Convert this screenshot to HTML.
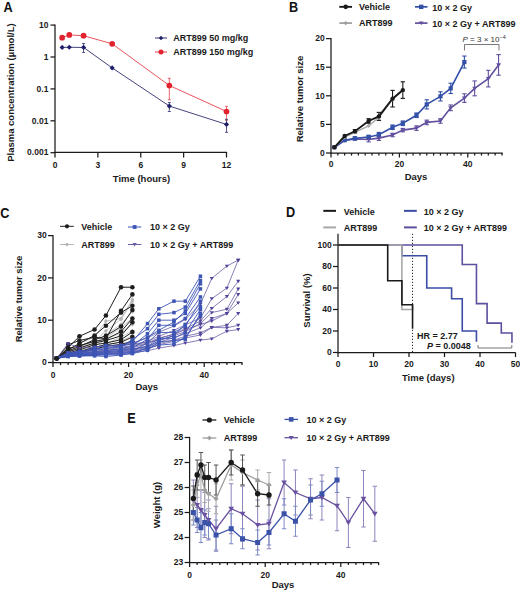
<!DOCTYPE html>
<html><head><meta charset="utf-8"><style>
html,body{margin:0;padding:0;background:#fff;width:520px;height:591px;overflow:hidden}
svg{display:block;font-family:"Liberation Sans", sans-serif}
</style></head><body>
<svg width="520" height="591" viewBox="0 0 520 591">
<rect width="520" height="591" fill="#fff"/>
<text transform="translate(3.60 11.50) scale(0.92 1)" font-size="13.8" font-weight="bold" fill="#111">A</text>
<line x1="55.00" y1="24.40" x2="55.00" y2="152.90" stroke="#1a1a1a" stroke-width="1.25"/>
<line x1="54.40" y1="152.30" x2="227.10" y2="152.30" stroke="#1a1a1a" stroke-width="1.25"/>
<line x1="50.50" y1="25.10" x2="55.00" y2="25.10" stroke="#1a1a1a" stroke-width="1.25"/>
<text x="48.40" y="27.80" font-size="8.5" text-anchor="end" font-weight="bold" fill="#1a1a1a">10</text>
<line x1="50.50" y1="57.00" x2="55.00" y2="57.00" stroke="#1a1a1a" stroke-width="1.25"/>
<text x="48.40" y="59.70" font-size="8.5" text-anchor="end" font-weight="bold" fill="#1a1a1a">1</text>
<line x1="50.50" y1="88.90" x2="55.00" y2="88.90" stroke="#1a1a1a" stroke-width="1.25"/>
<text x="48.40" y="91.60" font-size="8.5" text-anchor="end" font-weight="bold" fill="#1a1a1a">0.1</text>
<line x1="50.50" y1="120.80" x2="55.00" y2="120.80" stroke="#1a1a1a" stroke-width="1.25"/>
<text x="48.40" y="123.50" font-size="8.5" text-anchor="end" font-weight="bold" fill="#1a1a1a">0.01</text>
<line x1="50.50" y1="152.70" x2="55.00" y2="152.70" stroke="#1a1a1a" stroke-width="1.25"/>
<text x="48.40" y="155.40" font-size="8.5" text-anchor="end" font-weight="bold" fill="#1a1a1a">0.001</text>
<line x1="55.00" y1="152.30" x2="55.00" y2="157.50" stroke="#1a1a1a" stroke-width="1.25"/>
<text x="55.00" y="167.50" font-size="8.5" text-anchor="middle" font-weight="bold" fill="#1a1a1a">0</text>
<line x1="97.88" y1="152.30" x2="97.88" y2="157.50" stroke="#1a1a1a" stroke-width="1.25"/>
<text x="97.88" y="167.50" font-size="8.5" text-anchor="middle" font-weight="bold" fill="#1a1a1a">3</text>
<line x1="140.75" y1="152.30" x2="140.75" y2="157.50" stroke="#1a1a1a" stroke-width="1.25"/>
<text x="140.75" y="167.50" font-size="8.5" text-anchor="middle" font-weight="bold" fill="#1a1a1a">6</text>
<line x1="183.62" y1="152.30" x2="183.62" y2="157.50" stroke="#1a1a1a" stroke-width="1.25"/>
<text x="183.62" y="167.50" font-size="8.5" text-anchor="middle" font-weight="bold" fill="#1a1a1a">9</text>
<line x1="226.50" y1="152.30" x2="226.50" y2="157.50" stroke="#1a1a1a" stroke-width="1.25"/>
<text x="226.50" y="167.50" font-size="8.5" text-anchor="middle" font-weight="bold" fill="#1a1a1a">12</text>
<text x="141.50" y="181.50" font-size="9.5" text-anchor="middle" font-weight="bold" fill="#1a1a1a">Time (hours)</text>
<text x="13.80" y="92.60" font-size="9.5" text-anchor="middle" font-weight="bold" fill="#1a1a1a" transform="rotate(-90 13.8 92.6)">Plasma concentration (µmol/L)</text>
<line x1="169.33" y1="78.30" x2="169.33" y2="99.80" stroke="#e8565c" stroke-width="0.9"/>
<line x1="167.83" y1="78.30" x2="170.83" y2="78.30" stroke="#e8565c" stroke-width="0.9"/>
<line x1="167.83" y1="99.80" x2="170.83" y2="99.80" stroke="#e8565c" stroke-width="0.9"/>
<line x1="226.50" y1="106.30" x2="226.50" y2="120.20" stroke="#e8565c" stroke-width="0.9"/>
<line x1="225.00" y1="106.30" x2="228.00" y2="106.30" stroke="#e8565c" stroke-width="0.9"/>
<line x1="225.00" y1="120.20" x2="228.00" y2="120.20" stroke="#e8565c" stroke-width="0.9"/>
<line x1="169.33" y1="102.50" x2="169.33" y2="111.50" stroke="#44447f" stroke-width="0.9"/>
<line x1="167.83" y1="102.50" x2="170.83" y2="102.50" stroke="#44447f" stroke-width="0.9"/>
<line x1="167.83" y1="111.50" x2="170.83" y2="111.50" stroke="#44447f" stroke-width="0.9"/>
<line x1="226.50" y1="119.30" x2="226.50" y2="132.30" stroke="#44447f" stroke-width="0.9"/>
<line x1="225.00" y1="119.30" x2="228.00" y2="119.30" stroke="#44447f" stroke-width="0.9"/>
<line x1="225.00" y1="132.30" x2="228.00" y2="132.30" stroke="#44447f" stroke-width="0.9"/>
<line x1="83.58" y1="43.50" x2="83.58" y2="52.50" stroke="#44447f" stroke-width="0.9"/>
<line x1="82.08" y1="43.50" x2="85.08" y2="43.50" stroke="#44447f" stroke-width="0.9"/>
<line x1="82.08" y1="52.50" x2="85.08" y2="52.50" stroke="#44447f" stroke-width="0.9"/>
<polyline points="62.15,37.69 69.29,34.90 83.58,35.71 112.17,43.82 169.33,85.48 226.50,111.48" fill="none" stroke="#e8565c" stroke-width="1.0" stroke-linejoin="miter"/>
<polyline points="62.15,47.47 69.29,47.26 83.58,47.47 112.17,67.91 169.33,106.05 226.50,124.42" fill="none" stroke="#44447f" stroke-width="1.0" stroke-linejoin="miter"/>
<circle cx="62.15" cy="37.69" r="2.85" fill="#e2222e"/>
<circle cx="69.29" cy="34.90" r="2.85" fill="#e2222e"/>
<circle cx="83.58" cy="35.71" r="2.85" fill="#e2222e"/>
<circle cx="112.17" cy="43.82" r="2.85" fill="#e2222e"/>
<circle cx="169.33" cy="85.48" r="2.85" fill="#e2222e"/>
<circle cx="226.50" cy="111.48" r="2.85" fill="#e2222e"/>
<path d="M62.15 44.87L64.75 47.47L62.15 50.07L59.55 47.47Z" fill="#20206a"/>
<path d="M69.29 44.66L71.89 47.26L69.29 49.86L66.69 47.26Z" fill="#20206a"/>
<path d="M83.58 44.87L86.18 47.47L83.58 50.07L80.98 47.47Z" fill="#20206a"/>
<path d="M112.17 65.31L114.77 67.91L112.17 70.51L109.57 67.91Z" fill="#20206a"/>
<path d="M169.33 103.45L171.93 106.05L169.33 108.65L166.73 106.05Z" fill="#20206a"/>
<path d="M226.50 121.82L229.10 124.42L226.50 127.02L223.90 124.42Z" fill="#20206a"/>
<line x1="155.00" y1="38.00" x2="167.00" y2="38.00" stroke="#44447f" stroke-width="1.1"/>
<path d="M161.00 35.80L163.20 38.00L161.00 40.20L158.80 38.00Z" fill="#20206a"/>
<text x="173.30" y="40.60" font-size="9" text-anchor="start" font-weight="bold" fill="#1a1a1a">ART899 50 mg/kg</text>
<line x1="155.00" y1="52.00" x2="167.00" y2="52.00" stroke="#e8565c" stroke-width="1.1"/>
<circle cx="161.00" cy="52.00" r="2.5" fill="#e2222e"/>
<text x="173.30" y="55.20" font-size="9" text-anchor="start" font-weight="bold" fill="#1a1a1a">ART899 150 mg/kg</text>
<text transform="translate(289.00 11.70) scale(0.92 1)" font-size="13.8" font-weight="bold" fill="#111">B</text>
<line x1="331.00" y1="38.00" x2="331.00" y2="153.60" stroke="#1a1a1a" stroke-width="1.25"/>
<line x1="330.40" y1="153.00" x2="502.68" y2="153.00" stroke="#1a1a1a" stroke-width="1.25"/>
<line x1="326.00" y1="153.00" x2="331.00" y2="153.00" stroke="#1a1a1a" stroke-width="1.25"/>
<text x="324.70" y="155.70" font-size="8.5" text-anchor="end" font-weight="bold" fill="#1a1a1a">0</text>
<line x1="326.00" y1="124.40" x2="331.00" y2="124.40" stroke="#1a1a1a" stroke-width="1.25"/>
<text x="324.70" y="127.10" font-size="8.5" text-anchor="end" font-weight="bold" fill="#1a1a1a">5</text>
<line x1="326.00" y1="95.80" x2="331.00" y2="95.80" stroke="#1a1a1a" stroke-width="1.25"/>
<text x="324.70" y="98.50" font-size="8.5" text-anchor="end" font-weight="bold" fill="#1a1a1a">10</text>
<line x1="326.00" y1="67.20" x2="331.00" y2="67.20" stroke="#1a1a1a" stroke-width="1.25"/>
<text x="324.70" y="69.90" font-size="8.5" text-anchor="end" font-weight="bold" fill="#1a1a1a">15</text>
<line x1="326.00" y1="38.60" x2="331.00" y2="38.60" stroke="#1a1a1a" stroke-width="1.25"/>
<text x="324.70" y="41.30" font-size="8.5" text-anchor="end" font-weight="bold" fill="#1a1a1a">20</text>
<line x1="331.00" y1="153.00" x2="331.00" y2="157.50" stroke="#1a1a1a" stroke-width="1.25"/>
<line x1="337.84" y1="153.00" x2="337.84" y2="155.60" stroke="#1a1a1a" stroke-width="1.25"/>
<line x1="344.68" y1="153.00" x2="344.68" y2="155.60" stroke="#1a1a1a" stroke-width="1.25"/>
<line x1="351.52" y1="153.00" x2="351.52" y2="155.60" stroke="#1a1a1a" stroke-width="1.25"/>
<line x1="358.36" y1="153.00" x2="358.36" y2="155.60" stroke="#1a1a1a" stroke-width="1.25"/>
<line x1="365.20" y1="153.00" x2="365.20" y2="155.60" stroke="#1a1a1a" stroke-width="1.25"/>
<line x1="372.04" y1="153.00" x2="372.04" y2="155.60" stroke="#1a1a1a" stroke-width="1.25"/>
<line x1="378.88" y1="153.00" x2="378.88" y2="155.60" stroke="#1a1a1a" stroke-width="1.25"/>
<line x1="385.72" y1="153.00" x2="385.72" y2="155.60" stroke="#1a1a1a" stroke-width="1.25"/>
<line x1="392.56" y1="153.00" x2="392.56" y2="155.60" stroke="#1a1a1a" stroke-width="1.25"/>
<line x1="399.40" y1="153.00" x2="399.40" y2="157.50" stroke="#1a1a1a" stroke-width="1.25"/>
<line x1="406.24" y1="153.00" x2="406.24" y2="155.60" stroke="#1a1a1a" stroke-width="1.25"/>
<line x1="413.08" y1="153.00" x2="413.08" y2="155.60" stroke="#1a1a1a" stroke-width="1.25"/>
<line x1="419.92" y1="153.00" x2="419.92" y2="155.60" stroke="#1a1a1a" stroke-width="1.25"/>
<line x1="426.76" y1="153.00" x2="426.76" y2="155.60" stroke="#1a1a1a" stroke-width="1.25"/>
<line x1="433.60" y1="153.00" x2="433.60" y2="155.60" stroke="#1a1a1a" stroke-width="1.25"/>
<line x1="440.44" y1="153.00" x2="440.44" y2="155.60" stroke="#1a1a1a" stroke-width="1.25"/>
<line x1="447.28" y1="153.00" x2="447.28" y2="155.60" stroke="#1a1a1a" stroke-width="1.25"/>
<line x1="454.12" y1="153.00" x2="454.12" y2="155.60" stroke="#1a1a1a" stroke-width="1.25"/>
<line x1="460.96" y1="153.00" x2="460.96" y2="155.60" stroke="#1a1a1a" stroke-width="1.25"/>
<line x1="467.80" y1="153.00" x2="467.80" y2="157.50" stroke="#1a1a1a" stroke-width="1.25"/>
<line x1="474.64" y1="153.00" x2="474.64" y2="155.60" stroke="#1a1a1a" stroke-width="1.25"/>
<line x1="481.48" y1="153.00" x2="481.48" y2="155.60" stroke="#1a1a1a" stroke-width="1.25"/>
<line x1="488.32" y1="153.00" x2="488.32" y2="155.60" stroke="#1a1a1a" stroke-width="1.25"/>
<line x1="495.16" y1="153.00" x2="495.16" y2="155.60" stroke="#1a1a1a" stroke-width="1.25"/>
<line x1="502.00" y1="153.00" x2="502.00" y2="155.60" stroke="#1a1a1a" stroke-width="1.25"/>
<text x="331.00" y="167.30" font-size="8.5" text-anchor="middle" font-weight="bold" fill="#1a1a1a">0</text>
<text x="399.40" y="167.30" font-size="8.5" text-anchor="middle" font-weight="bold" fill="#1a1a1a">20</text>
<text x="467.80" y="167.30" font-size="8.5" text-anchor="middle" font-weight="bold" fill="#1a1a1a">40</text>
<text x="416.00" y="179.50" font-size="9.5" text-anchor="middle" font-weight="bold" fill="#1a1a1a">Days</text>
<text x="302.60" y="99.00" font-size="9.5" text-anchor="middle" font-weight="bold" fill="#1a1a1a" transform="rotate(-90 302.6 99)">Relative tumor size</text>
<line x1="368.62" y1="137.27" x2="368.62" y2="141.85" stroke="#62509f" stroke-width="1.1"/>
<line x1="366.42" y1="137.27" x2="370.82" y2="137.27" stroke="#62509f" stroke-width="1.1"/>
<line x1="366.42" y1="141.85" x2="370.82" y2="141.85" stroke="#62509f" stroke-width="1.1"/>
<line x1="378.88" y1="135.84" x2="378.88" y2="140.42" stroke="#62509f" stroke-width="1.1"/>
<line x1="376.68" y1="135.84" x2="381.08" y2="135.84" stroke="#62509f" stroke-width="1.1"/>
<line x1="376.68" y1="140.42" x2="381.08" y2="140.42" stroke="#62509f" stroke-width="1.1"/>
<line x1="392.56" y1="133.27" x2="392.56" y2="136.70" stroke="#62509f" stroke-width="1.1"/>
<line x1="390.36" y1="133.27" x2="394.76" y2="133.27" stroke="#62509f" stroke-width="1.1"/>
<line x1="390.36" y1="136.70" x2="394.76" y2="136.70" stroke="#62509f" stroke-width="1.1"/>
<line x1="402.82" y1="128.40" x2="402.82" y2="131.84" stroke="#62509f" stroke-width="1.1"/>
<line x1="400.62" y1="128.40" x2="405.02" y2="128.40" stroke="#62509f" stroke-width="1.1"/>
<line x1="400.62" y1="131.84" x2="405.02" y2="131.84" stroke="#62509f" stroke-width="1.1"/>
<line x1="416.50" y1="125.83" x2="416.50" y2="130.41" stroke="#62509f" stroke-width="1.1"/>
<line x1="414.30" y1="125.83" x2="418.70" y2="125.83" stroke="#62509f" stroke-width="1.1"/>
<line x1="414.30" y1="130.41" x2="418.70" y2="130.41" stroke="#62509f" stroke-width="1.1"/>
<line x1="426.76" y1="120.11" x2="426.76" y2="124.69" stroke="#62509f" stroke-width="1.1"/>
<line x1="424.56" y1="120.11" x2="428.96" y2="120.11" stroke="#62509f" stroke-width="1.1"/>
<line x1="424.56" y1="124.69" x2="428.96" y2="124.69" stroke="#62509f" stroke-width="1.1"/>
<line x1="440.44" y1="118.68" x2="440.44" y2="123.26" stroke="#62509f" stroke-width="1.1"/>
<line x1="438.24" y1="118.68" x2="442.64" y2="118.68" stroke="#62509f" stroke-width="1.1"/>
<line x1="438.24" y1="123.26" x2="442.64" y2="123.26" stroke="#62509f" stroke-width="1.1"/>
<line x1="450.70" y1="104.95" x2="450.70" y2="110.67" stroke="#62509f" stroke-width="1.1"/>
<line x1="448.50" y1="104.95" x2="452.90" y2="104.95" stroke="#62509f" stroke-width="1.1"/>
<line x1="448.50" y1="110.67" x2="452.90" y2="110.67" stroke="#62509f" stroke-width="1.1"/>
<line x1="464.38" y1="93.80" x2="464.38" y2="102.38" stroke="#62509f" stroke-width="1.1"/>
<line x1="462.18" y1="93.80" x2="466.58" y2="93.80" stroke="#62509f" stroke-width="1.1"/>
<line x1="462.18" y1="102.38" x2="466.58" y2="102.38" stroke="#62509f" stroke-width="1.1"/>
<line x1="474.64" y1="80.93" x2="474.64" y2="95.80" stroke="#62509f" stroke-width="1.1"/>
<line x1="472.44" y1="80.93" x2="476.84" y2="80.93" stroke="#62509f" stroke-width="1.1"/>
<line x1="472.44" y1="95.80" x2="476.84" y2="95.80" stroke="#62509f" stroke-width="1.1"/>
<line x1="488.32" y1="70.35" x2="488.32" y2="86.93" stroke="#62509f" stroke-width="1.1"/>
<line x1="486.12" y1="70.35" x2="490.52" y2="70.35" stroke="#62509f" stroke-width="1.1"/>
<line x1="486.12" y1="86.93" x2="490.52" y2="86.93" stroke="#62509f" stroke-width="1.1"/>
<line x1="498.58" y1="54.62" x2="498.58" y2="75.21" stroke="#62509f" stroke-width="1.1"/>
<line x1="496.38" y1="54.62" x2="500.78" y2="54.62" stroke="#62509f" stroke-width="1.1"/>
<line x1="496.38" y1="75.21" x2="500.78" y2="75.21" stroke="#62509f" stroke-width="1.1"/>
<line x1="354.94" y1="136.70" x2="354.94" y2="140.13" stroke="#3451a8" stroke-width="1.1"/>
<line x1="352.74" y1="136.70" x2="357.14" y2="136.70" stroke="#3451a8" stroke-width="1.1"/>
<line x1="352.74" y1="140.13" x2="357.14" y2="140.13" stroke="#3451a8" stroke-width="1.1"/>
<line x1="368.62" y1="135.27" x2="368.62" y2="138.70" stroke="#3451a8" stroke-width="1.1"/>
<line x1="366.42" y1="135.27" x2="370.82" y2="135.27" stroke="#3451a8" stroke-width="1.1"/>
<line x1="366.42" y1="138.70" x2="370.82" y2="138.70" stroke="#3451a8" stroke-width="1.1"/>
<line x1="378.88" y1="132.41" x2="378.88" y2="136.98" stroke="#3451a8" stroke-width="1.1"/>
<line x1="376.68" y1="132.41" x2="381.08" y2="132.41" stroke="#3451a8" stroke-width="1.1"/>
<line x1="376.68" y1="136.98" x2="381.08" y2="136.98" stroke="#3451a8" stroke-width="1.1"/>
<line x1="392.56" y1="124.97" x2="392.56" y2="129.55" stroke="#3451a8" stroke-width="1.1"/>
<line x1="390.36" y1="124.97" x2="394.76" y2="124.97" stroke="#3451a8" stroke-width="1.1"/>
<line x1="390.36" y1="129.55" x2="394.76" y2="129.55" stroke="#3451a8" stroke-width="1.1"/>
<line x1="402.82" y1="120.97" x2="402.82" y2="125.54" stroke="#3451a8" stroke-width="1.1"/>
<line x1="400.62" y1="120.97" x2="405.02" y2="120.97" stroke="#3451a8" stroke-width="1.1"/>
<line x1="400.62" y1="125.54" x2="405.02" y2="125.54" stroke="#3451a8" stroke-width="1.1"/>
<line x1="416.50" y1="112.96" x2="416.50" y2="117.54" stroke="#3451a8" stroke-width="1.1"/>
<line x1="414.30" y1="112.96" x2="418.70" y2="112.96" stroke="#3451a8" stroke-width="1.1"/>
<line x1="414.30" y1="117.54" x2="418.70" y2="117.54" stroke="#3451a8" stroke-width="1.1"/>
<line x1="426.76" y1="99.80" x2="426.76" y2="108.96" stroke="#3451a8" stroke-width="1.1"/>
<line x1="424.56" y1="99.80" x2="428.96" y2="99.80" stroke="#3451a8" stroke-width="1.1"/>
<line x1="424.56" y1="108.96" x2="428.96" y2="108.96" stroke="#3451a8" stroke-width="1.1"/>
<line x1="440.44" y1="91.80" x2="440.44" y2="100.95" stroke="#3451a8" stroke-width="1.1"/>
<line x1="438.24" y1="91.80" x2="442.64" y2="91.80" stroke="#3451a8" stroke-width="1.1"/>
<line x1="438.24" y1="100.95" x2="442.64" y2="100.95" stroke="#3451a8" stroke-width="1.1"/>
<line x1="450.70" y1="83.22" x2="450.70" y2="93.51" stroke="#3451a8" stroke-width="1.1"/>
<line x1="448.50" y1="83.22" x2="452.90" y2="83.22" stroke="#3451a8" stroke-width="1.1"/>
<line x1="448.50" y1="93.51" x2="452.90" y2="93.51" stroke="#3451a8" stroke-width="1.1"/>
<line x1="464.38" y1="56.05" x2="464.38" y2="68.06" stroke="#3451a8" stroke-width="1.1"/>
<line x1="462.18" y1="56.05" x2="466.58" y2="56.05" stroke="#3451a8" stroke-width="1.1"/>
<line x1="462.18" y1="68.06" x2="466.58" y2="68.06" stroke="#3451a8" stroke-width="1.1"/>
<line x1="354.94" y1="129.55" x2="354.94" y2="132.98" stroke="#1a1a1a" stroke-width="1.1"/>
<line x1="352.74" y1="129.55" x2="357.14" y2="129.55" stroke="#1a1a1a" stroke-width="1.1"/>
<line x1="352.74" y1="132.98" x2="357.14" y2="132.98" stroke="#1a1a1a" stroke-width="1.1"/>
<line x1="368.62" y1="118.68" x2="368.62" y2="123.26" stroke="#1a1a1a" stroke-width="1.1"/>
<line x1="366.42" y1="118.68" x2="370.82" y2="118.68" stroke="#1a1a1a" stroke-width="1.1"/>
<line x1="366.42" y1="123.26" x2="370.82" y2="123.26" stroke="#1a1a1a" stroke-width="1.1"/>
<line x1="378.88" y1="112.39" x2="378.88" y2="120.40" stroke="#1a1a1a" stroke-width="1.1"/>
<line x1="376.68" y1="112.39" x2="381.08" y2="112.39" stroke="#1a1a1a" stroke-width="1.1"/>
<line x1="376.68" y1="120.40" x2="381.08" y2="120.40" stroke="#1a1a1a" stroke-width="1.1"/>
<line x1="392.56" y1="90.37" x2="392.56" y2="106.95" stroke="#1a1a1a" stroke-width="1.1"/>
<line x1="390.36" y1="90.37" x2="394.76" y2="90.37" stroke="#1a1a1a" stroke-width="1.1"/>
<line x1="390.36" y1="106.95" x2="394.76" y2="106.95" stroke="#1a1a1a" stroke-width="1.1"/>
<line x1="402.82" y1="81.79" x2="402.82" y2="98.37" stroke="#1a1a1a" stroke-width="1.1"/>
<line x1="400.62" y1="81.79" x2="405.02" y2="81.79" stroke="#1a1a1a" stroke-width="1.1"/>
<line x1="400.62" y1="98.37" x2="405.02" y2="98.37" stroke="#1a1a1a" stroke-width="1.1"/>
<polyline points="334.42,147.28 344.68,140.42 354.94,138.99 368.62,139.56 378.88,138.13 392.56,134.98 402.82,130.12 416.50,128.12 426.76,122.40 440.44,120.97 450.70,107.81 464.38,98.09 474.64,88.36 488.32,78.64 498.58,64.91" fill="none" stroke="#62509f" stroke-width="1.6" stroke-linejoin="miter"/>
<path d="M332.00 145.63L336.84 145.63L334.42 149.59Z" fill="#62509f"/>
<path d="M342.26 138.77L347.10 138.77L344.68 142.73Z" fill="#62509f"/>
<path d="M352.52 137.34L357.36 137.34L354.94 141.30Z" fill="#62509f"/>
<path d="M366.20 137.91L371.04 137.91L368.62 141.87Z" fill="#62509f"/>
<path d="M376.46 136.48L381.30 136.48L378.88 140.44Z" fill="#62509f"/>
<path d="M390.14 133.33L394.98 133.33L392.56 137.29Z" fill="#62509f"/>
<path d="M400.40 128.47L405.24 128.47L402.82 132.43Z" fill="#62509f"/>
<path d="M414.08 126.47L418.92 126.47L416.50 130.43Z" fill="#62509f"/>
<path d="M424.34 120.75L429.18 120.75L426.76 124.71Z" fill="#62509f"/>
<path d="M438.02 119.32L442.86 119.32L440.44 123.28Z" fill="#62509f"/>
<path d="M448.28 106.16L453.12 106.16L450.70 110.12Z" fill="#62509f"/>
<path d="M461.96 96.44L466.80 96.44L464.38 100.40Z" fill="#62509f"/>
<path d="M472.22 86.71L477.06 86.71L474.64 90.67Z" fill="#62509f"/>
<path d="M485.90 76.99L490.74 76.99L488.32 80.95Z" fill="#62509f"/>
<path d="M496.16 63.26L501.00 63.26L498.58 67.22Z" fill="#62509f"/>
<polyline points="334.42,147.28 344.68,140.19 354.94,138.41 368.62,136.98 378.88,134.70 392.56,127.26 402.82,123.26 416.50,115.25 426.76,104.38 440.44,96.37 450.70,88.36 464.38,62.05" fill="none" stroke="#3451a8" stroke-width="1.6" stroke-linejoin="miter"/>
<rect x="332.32" y="145.18" width="4.2" height="4.2" fill="#3451a8"/>
<rect x="342.58" y="138.09" width="4.2" height="4.2" fill="#3451a8"/>
<rect x="352.84" y="136.31" width="4.2" height="4.2" fill="#3451a8"/>
<rect x="366.52" y="134.88" width="4.2" height="4.2" fill="#3451a8"/>
<rect x="376.78" y="132.60" width="4.2" height="4.2" fill="#3451a8"/>
<rect x="390.46" y="125.16" width="4.2" height="4.2" fill="#3451a8"/>
<rect x="400.72" y="121.16" width="4.2" height="4.2" fill="#3451a8"/>
<rect x="414.40" y="113.15" width="4.2" height="4.2" fill="#3451a8"/>
<rect x="424.66" y="102.28" width="4.2" height="4.2" fill="#3451a8"/>
<rect x="438.34" y="94.27" width="4.2" height="4.2" fill="#3451a8"/>
<rect x="448.60" y="86.26" width="4.2" height="4.2" fill="#3451a8"/>
<rect x="462.28" y="59.95" width="4.2" height="4.2" fill="#3451a8"/>
<polyline points="334.42,147.28 344.68,137.27 354.94,132.41 368.62,125.83 378.88,117.54 392.56,99.23 402.82,90.65" fill="none" stroke="#a9a9a9" stroke-width="1.3" stroke-linejoin="miter"/>
<path d="M334.42 145.08L336.62 147.28L334.42 149.48L332.22 147.28Z" fill="#a9a9a9"/>
<path d="M344.68 135.07L346.88 137.27L344.68 139.47L342.48 137.27Z" fill="#a9a9a9"/>
<path d="M354.94 130.21L357.14 132.41L354.94 134.61L352.74 132.41Z" fill="#a9a9a9"/>
<path d="M368.62 123.63L370.82 125.83L368.62 128.03L366.42 125.83Z" fill="#a9a9a9"/>
<path d="M378.88 115.34L381.08 117.54L378.88 119.74L376.68 117.54Z" fill="#a9a9a9"/>
<path d="M392.56 97.03L394.76 99.23L392.56 101.43L390.36 99.23Z" fill="#a9a9a9"/>
<path d="M402.82 88.45L405.02 90.65L402.82 92.85L400.62 90.65Z" fill="#a9a9a9"/>
<polyline points="334.42,147.28 344.68,136.01 354.94,131.26 368.62,120.97 378.88,116.39 392.56,98.66 402.82,90.08" fill="none" stroke="#1a1a1a" stroke-width="1.9" stroke-linejoin="miter"/>
<circle cx="334.42" cy="147.28" r="2.2" fill="#1a1a1a"/>
<circle cx="344.68" cy="136.01" r="2.2" fill="#1a1a1a"/>
<circle cx="354.94" cy="131.26" r="2.2" fill="#1a1a1a"/>
<circle cx="368.62" cy="120.97" r="2.2" fill="#1a1a1a"/>
<circle cx="378.88" cy="116.39" r="2.2" fill="#1a1a1a"/>
<circle cx="392.56" cy="98.66" r="2.2" fill="#1a1a1a"/>
<circle cx="402.82" cy="90.08" r="2.2" fill="#1a1a1a"/>
<polyline points="464.50,50.50 464.50,44.50 499.00,44.50 499.00,50.50" fill="none" stroke="#555" stroke-width="0.8" stroke-linejoin="miter"/>
<text x="462.5" y="42.4" font-size="8" fill="#333"><tspan font-style="italic">P</tspan> = 3 × 10<tspan font-size="5.5" dy="-3.5">−4</tspan></text>
<line x1="339.30" y1="6.85" x2="352.00" y2="6.85" stroke="#1a1a1a" stroke-width="1.9"/>
<circle cx="345.70" cy="6.85" r="2.3" fill="#1a1a1a"/>
<text x="359.00" y="10.20" font-size="9" text-anchor="start" font-weight="bold" fill="#1a1a1a">Vehicle</text>
<line x1="339.30" y1="23.10" x2="352.00" y2="23.10" stroke="#9d9d9d" stroke-width="1.7"/>
<path d="M345.70 20.90L347.90 23.10L345.70 25.30L343.50 23.10Z" fill="#9d9d9d"/>
<text x="359.00" y="26.20" font-size="9" text-anchor="start" font-weight="bold" fill="#1a1a1a">ART899</text>
<line x1="415.00" y1="6.85" x2="427.50" y2="6.85" stroke="#3451a8" stroke-width="1.7"/>
<rect x="419.00" y="4.65" width="4.4" height="4.4" fill="#3451a8"/>
<text x="432.20" y="10.60" font-size="9" text-anchor="start" font-weight="bold" fill="#1a1a1a">10 × 2 Gy</text>
<line x1="415.00" y1="23.10" x2="427.50" y2="23.10" stroke="#62509f" stroke-width="1.7"/>
<path d="M418.89 21.53L423.51 21.53L421.20 25.30Z" fill="#62509f"/>
<text x="432.20" y="26.60" font-size="9" text-anchor="start" font-weight="bold" fill="#1a1a1a">10 × 2 Gy + ART899</text>
<text transform="translate(0.20 217.50) scale(0.92 1)" font-size="13.8" font-weight="bold" fill="#111">C</text>
<line x1="53.00" y1="235.00" x2="53.00" y2="363.10" stroke="#1a1a1a" stroke-width="1.25"/>
<line x1="52.40" y1="362.50" x2="242.38" y2="362.50" stroke="#1a1a1a" stroke-width="1.25"/>
<line x1="48.00" y1="362.50" x2="53.00" y2="362.50" stroke="#1a1a1a" stroke-width="1.25"/>
<text x="46.70" y="365.20" font-size="8.5" text-anchor="end" font-weight="bold" fill="#1a1a1a">0</text>
<line x1="48.00" y1="320.20" x2="53.00" y2="320.20" stroke="#1a1a1a" stroke-width="1.25"/>
<text x="46.70" y="322.90" font-size="8.5" text-anchor="end" font-weight="bold" fill="#1a1a1a">10</text>
<line x1="48.00" y1="277.90" x2="53.00" y2="277.90" stroke="#1a1a1a" stroke-width="1.25"/>
<text x="46.70" y="280.60" font-size="8.5" text-anchor="end" font-weight="bold" fill="#1a1a1a">20</text>
<line x1="48.00" y1="235.60" x2="53.00" y2="235.60" stroke="#1a1a1a" stroke-width="1.25"/>
<text x="46.70" y="238.30" font-size="8.5" text-anchor="end" font-weight="bold" fill="#1a1a1a">30</text>
<line x1="53.00" y1="362.50" x2="53.00" y2="367.00" stroke="#1a1a1a" stroke-width="1.25"/>
<line x1="60.56" y1="362.50" x2="60.56" y2="365.10" stroke="#1a1a1a" stroke-width="1.25"/>
<line x1="68.12" y1="362.50" x2="68.12" y2="365.10" stroke="#1a1a1a" stroke-width="1.25"/>
<line x1="75.68" y1="362.50" x2="75.68" y2="365.10" stroke="#1a1a1a" stroke-width="1.25"/>
<line x1="83.24" y1="362.50" x2="83.24" y2="365.10" stroke="#1a1a1a" stroke-width="1.25"/>
<line x1="90.80" y1="362.50" x2="90.80" y2="365.10" stroke="#1a1a1a" stroke-width="1.25"/>
<line x1="98.36" y1="362.50" x2="98.36" y2="365.10" stroke="#1a1a1a" stroke-width="1.25"/>
<line x1="105.92" y1="362.50" x2="105.92" y2="365.10" stroke="#1a1a1a" stroke-width="1.25"/>
<line x1="113.48" y1="362.50" x2="113.48" y2="365.10" stroke="#1a1a1a" stroke-width="1.25"/>
<line x1="121.04" y1="362.50" x2="121.04" y2="365.10" stroke="#1a1a1a" stroke-width="1.25"/>
<line x1="128.60" y1="362.50" x2="128.60" y2="367.00" stroke="#1a1a1a" stroke-width="1.25"/>
<line x1="136.16" y1="362.50" x2="136.16" y2="365.10" stroke="#1a1a1a" stroke-width="1.25"/>
<line x1="143.72" y1="362.50" x2="143.72" y2="365.10" stroke="#1a1a1a" stroke-width="1.25"/>
<line x1="151.28" y1="362.50" x2="151.28" y2="365.10" stroke="#1a1a1a" stroke-width="1.25"/>
<line x1="158.84" y1="362.50" x2="158.84" y2="365.10" stroke="#1a1a1a" stroke-width="1.25"/>
<line x1="166.40" y1="362.50" x2="166.40" y2="365.10" stroke="#1a1a1a" stroke-width="1.25"/>
<line x1="173.96" y1="362.50" x2="173.96" y2="365.10" stroke="#1a1a1a" stroke-width="1.25"/>
<line x1="181.52" y1="362.50" x2="181.52" y2="365.10" stroke="#1a1a1a" stroke-width="1.25"/>
<line x1="189.08" y1="362.50" x2="189.08" y2="365.10" stroke="#1a1a1a" stroke-width="1.25"/>
<line x1="196.64" y1="362.50" x2="196.64" y2="365.10" stroke="#1a1a1a" stroke-width="1.25"/>
<line x1="204.20" y1="362.50" x2="204.20" y2="367.00" stroke="#1a1a1a" stroke-width="1.25"/>
<line x1="211.76" y1="362.50" x2="211.76" y2="365.10" stroke="#1a1a1a" stroke-width="1.25"/>
<line x1="219.32" y1="362.50" x2="219.32" y2="365.10" stroke="#1a1a1a" stroke-width="1.25"/>
<line x1="226.88" y1="362.50" x2="226.88" y2="365.10" stroke="#1a1a1a" stroke-width="1.25"/>
<line x1="234.44" y1="362.50" x2="234.44" y2="365.10" stroke="#1a1a1a" stroke-width="1.25"/>
<line x1="242.00" y1="362.50" x2="242.00" y2="365.10" stroke="#1a1a1a" stroke-width="1.25"/>
<text x="53.00" y="377.50" font-size="8.5" text-anchor="middle" font-weight="bold" fill="#1a1a1a">0</text>
<text x="128.60" y="377.50" font-size="8.5" text-anchor="middle" font-weight="bold" fill="#1a1a1a">20</text>
<text x="204.20" y="377.50" font-size="8.5" text-anchor="middle" font-weight="bold" fill="#1a1a1a">40</text>
<text x="146.75" y="390.10" font-size="9.5" text-anchor="middle" font-weight="bold" fill="#1a1a1a">Days</text>
<text x="22.20" y="299.00" font-size="9.5" text-anchor="middle" font-weight="bold" fill="#1a1a1a" transform="rotate(-90 22.2 299.0)">Relative tumor size</text>
<polyline points="56.78,358.27 68.12,349.81 79.46,343.46 94.58,337.12 105.92,321.05 121.04,318.51 132.38,299.47" fill="none" stroke="#b5b5b5" stroke-width="0.8" stroke-linejoin="miter"/>
<path d="M56.78 356.17L58.88 358.27L56.78 360.37L54.68 358.27Z" fill="#b5b5b5"/>
<path d="M68.12 347.71L70.22 349.81L68.12 351.91L66.02 349.81Z" fill="#b5b5b5"/>
<path d="M79.46 341.36L81.56 343.46L79.46 345.56L77.36 343.46Z" fill="#b5b5b5"/>
<path d="M94.58 335.02L96.68 337.12L94.58 339.22L92.48 337.12Z" fill="#b5b5b5"/>
<path d="M105.92 318.95L108.02 321.05L105.92 323.15L103.82 321.05Z" fill="#b5b5b5"/>
<path d="M121.04 316.41L123.14 318.51L121.04 320.61L118.94 318.51Z" fill="#b5b5b5"/>
<path d="M132.38 297.37L134.48 299.47L132.38 301.57L130.28 299.47Z" fill="#b5b5b5"/>
<polyline points="56.78,358.27 68.12,351.50 79.46,347.27 94.58,341.35 105.92,330.77 121.04,319.35 132.38,301.16" fill="none" stroke="#b5b5b5" stroke-width="0.8" stroke-linejoin="miter"/>
<path d="M56.78 356.17L58.88 358.27L56.78 360.37L54.68 358.27Z" fill="#b5b5b5"/>
<path d="M68.12 349.40L70.22 351.50L68.12 353.60L66.02 351.50Z" fill="#b5b5b5"/>
<path d="M79.46 345.17L81.56 347.27L79.46 349.37L77.36 347.27Z" fill="#b5b5b5"/>
<path d="M94.58 339.25L96.68 341.35L94.58 343.45L92.48 341.35Z" fill="#b5b5b5"/>
<path d="M105.92 328.67L108.02 330.77L105.92 332.88L103.82 330.77Z" fill="#b5b5b5"/>
<path d="M121.04 317.25L123.14 319.35L121.04 321.45L118.94 319.35Z" fill="#b5b5b5"/>
<path d="M132.38 299.06L134.48 301.16L132.38 303.26L130.28 301.16Z" fill="#b5b5b5"/>
<polyline points="56.78,358.27 68.12,352.35 79.46,348.96 94.58,343.89 105.92,334.58 121.04,324.43 132.38,311.74" fill="none" stroke="#b5b5b5" stroke-width="0.8" stroke-linejoin="miter"/>
<path d="M56.78 356.17L58.88 358.27L56.78 360.37L54.68 358.27Z" fill="#b5b5b5"/>
<path d="M68.12 350.25L70.22 352.35L68.12 354.45L66.02 352.35Z" fill="#b5b5b5"/>
<path d="M79.46 346.86L81.56 348.96L79.46 351.06L77.36 348.96Z" fill="#b5b5b5"/>
<path d="M94.58 341.79L96.68 343.89L94.58 345.99L92.48 343.89Z" fill="#b5b5b5"/>
<path d="M105.92 332.48L108.02 334.58L105.92 336.68L103.82 334.58Z" fill="#b5b5b5"/>
<path d="M121.04 322.33L123.14 324.43L121.04 326.53L118.94 324.43Z" fill="#b5b5b5"/>
<path d="M132.38 309.64L134.48 311.74L132.38 313.84L130.28 311.74Z" fill="#b5b5b5"/>
<polyline points="56.78,358.27 68.12,353.62 79.46,350.66 94.58,346.43 105.92,339.24 121.04,332.89 132.38,324.43" fill="none" stroke="#b5b5b5" stroke-width="0.8" stroke-linejoin="miter"/>
<path d="M56.78 356.17L58.88 358.27L56.78 360.37L54.68 358.27Z" fill="#b5b5b5"/>
<path d="M68.12 351.52L70.22 353.62L68.12 355.72L66.02 353.62Z" fill="#b5b5b5"/>
<path d="M79.46 348.56L81.56 350.66L79.46 352.76L77.36 350.66Z" fill="#b5b5b5"/>
<path d="M94.58 344.33L96.68 346.43L94.58 348.53L92.48 346.43Z" fill="#b5b5b5"/>
<path d="M105.92 337.13L108.02 339.24L105.92 341.34L103.82 339.24Z" fill="#b5b5b5"/>
<path d="M121.04 330.79L123.14 332.89L121.04 334.99L118.94 332.89Z" fill="#b5b5b5"/>
<path d="M132.38 322.33L134.48 324.43L132.38 326.53L130.28 324.43Z" fill="#b5b5b5"/>
<polyline points="56.78,358.27 68.12,354.46 79.46,351.93 94.58,348.12 105.92,343.46 121.04,337.12 132.38,330.77" fill="none" stroke="#b5b5b5" stroke-width="0.8" stroke-linejoin="miter"/>
<path d="M56.78 356.17L58.88 358.27L56.78 360.37L54.68 358.27Z" fill="#b5b5b5"/>
<path d="M68.12 352.36L70.22 354.46L68.12 356.56L66.02 354.46Z" fill="#b5b5b5"/>
<path d="M79.46 349.82L81.56 351.93L79.46 354.03L77.36 351.93Z" fill="#b5b5b5"/>
<path d="M94.58 346.02L96.68 348.12L94.58 350.22L92.48 348.12Z" fill="#b5b5b5"/>
<path d="M105.92 341.36L108.02 343.46L105.92 345.56L103.82 343.46Z" fill="#b5b5b5"/>
<path d="M121.04 335.02L123.14 337.12L121.04 339.22L118.94 337.12Z" fill="#b5b5b5"/>
<path d="M132.38 328.67L134.48 330.77L132.38 332.88L130.28 330.77Z" fill="#b5b5b5"/>
<polyline points="56.78,358.27 68.12,355.31 79.46,353.19 94.58,349.81 105.92,345.58 121.04,341.35 132.38,335.43" fill="none" stroke="#b5b5b5" stroke-width="0.8" stroke-linejoin="miter"/>
<path d="M56.78 356.17L58.88 358.27L56.78 360.37L54.68 358.27Z" fill="#b5b5b5"/>
<path d="M68.12 353.21L70.22 355.31L68.12 357.41L66.02 355.31Z" fill="#b5b5b5"/>
<path d="M79.46 351.09L81.56 353.19L79.46 355.29L77.36 353.19Z" fill="#b5b5b5"/>
<path d="M94.58 347.71L96.68 349.81L94.58 351.91L92.48 349.81Z" fill="#b5b5b5"/>
<path d="M105.92 343.48L108.02 345.58L105.92 347.68L103.82 345.58Z" fill="#b5b5b5"/>
<path d="M121.04 339.25L123.14 341.35L121.04 343.45L118.94 341.35Z" fill="#b5b5b5"/>
<path d="M132.38 333.33L134.48 335.43L132.38 337.53L130.28 335.43Z" fill="#b5b5b5"/>
<polyline points="56.78,358.27 68.12,350.66 79.46,347.27 94.58,343.04 105.92,337.97 121.04,327.81 132.38,318.08" fill="none" stroke="#b5b5b5" stroke-width="0.8" stroke-linejoin="miter"/>
<path d="M56.78 356.17L58.88 358.27L56.78 360.37L54.68 358.27Z" fill="#b5b5b5"/>
<path d="M68.12 348.56L70.22 350.66L68.12 352.76L66.02 350.66Z" fill="#b5b5b5"/>
<path d="M79.46 345.17L81.56 347.27L79.46 349.37L77.36 347.27Z" fill="#b5b5b5"/>
<path d="M94.58 340.94L96.68 343.04L94.58 345.14L92.48 343.04Z" fill="#b5b5b5"/>
<path d="M105.92 335.87L108.02 337.97L105.92 340.07L103.82 337.97Z" fill="#b5b5b5"/>
<path d="M121.04 325.71L123.14 327.81L121.04 329.91L118.94 327.81Z" fill="#b5b5b5"/>
<path d="M132.38 315.98L134.48 318.08L132.38 320.19L130.28 318.08Z" fill="#b5b5b5"/>
<polyline points="56.78,358.27 68.12,347.69 79.46,336.27 94.58,329.51 105.92,315.55 121.04,287.21 132.38,287.21" fill="none" stroke="#1e1e1e" stroke-width="1.0" stroke-linejoin="miter"/>
<circle cx="56.78" cy="358.27" r="2.3" fill="#1e1e1e"/>
<circle cx="68.12" cy="347.69" r="2.3" fill="#1e1e1e"/>
<circle cx="79.46" cy="336.27" r="2.3" fill="#1e1e1e"/>
<circle cx="94.58" cy="329.51" r="2.3" fill="#1e1e1e"/>
<circle cx="105.92" cy="315.55" r="2.3" fill="#1e1e1e"/>
<circle cx="121.04" cy="287.21" r="2.3" fill="#1e1e1e"/>
<circle cx="132.38" cy="287.21" r="2.3" fill="#1e1e1e"/>
<polyline points="56.78,358.27 68.12,344.73 79.46,340.50 94.58,337.12 105.92,338.81 121.04,310.89 132.38,294.40" fill="none" stroke="#1e1e1e" stroke-width="1.0" stroke-linejoin="miter"/>
<circle cx="56.78" cy="358.27" r="2.3" fill="#1e1e1e"/>
<circle cx="68.12" cy="344.73" r="2.3" fill="#1e1e1e"/>
<circle cx="79.46" cy="340.50" r="2.3" fill="#1e1e1e"/>
<circle cx="94.58" cy="337.12" r="2.3" fill="#1e1e1e"/>
<circle cx="105.92" cy="338.81" r="2.3" fill="#1e1e1e"/>
<circle cx="121.04" cy="310.89" r="2.3" fill="#1e1e1e"/>
<circle cx="132.38" cy="294.40" r="2.3" fill="#1e1e1e"/>
<polyline points="56.78,358.27 68.12,349.81 79.46,343.46 94.58,335.43 105.92,325.70 121.04,312.59 132.38,305.82" fill="none" stroke="#1e1e1e" stroke-width="1.0" stroke-linejoin="miter"/>
<circle cx="56.78" cy="358.27" r="2.3" fill="#1e1e1e"/>
<circle cx="68.12" cy="349.81" r="2.3" fill="#1e1e1e"/>
<circle cx="79.46" cy="343.46" r="2.3" fill="#1e1e1e"/>
<circle cx="94.58" cy="335.43" r="2.3" fill="#1e1e1e"/>
<circle cx="105.92" cy="325.70" r="2.3" fill="#1e1e1e"/>
<circle cx="121.04" cy="312.59" r="2.3" fill="#1e1e1e"/>
<circle cx="132.38" cy="305.82" r="2.3" fill="#1e1e1e"/>
<polyline points="56.78,358.27 68.12,350.66 79.46,346.43 94.58,339.66 105.92,335.85 121.04,326.55 132.38,310.05" fill="none" stroke="#1e1e1e" stroke-width="1.0" stroke-linejoin="miter"/>
<circle cx="56.78" cy="358.27" r="2.3" fill="#1e1e1e"/>
<circle cx="68.12" cy="350.66" r="2.3" fill="#1e1e1e"/>
<circle cx="79.46" cy="346.43" r="2.3" fill="#1e1e1e"/>
<circle cx="94.58" cy="339.66" r="2.3" fill="#1e1e1e"/>
<circle cx="105.92" cy="335.85" r="2.3" fill="#1e1e1e"/>
<circle cx="121.04" cy="326.55" r="2.3" fill="#1e1e1e"/>
<circle cx="132.38" cy="310.05" r="2.3" fill="#1e1e1e"/>
<polyline points="56.78,358.27 68.12,348.54 79.46,345.58 94.58,341.35 105.92,339.24 121.04,331.62 132.38,318.51" fill="none" stroke="#1e1e1e" stroke-width="1.0" stroke-linejoin="miter"/>
<circle cx="56.78" cy="358.27" r="2.3" fill="#1e1e1e"/>
<circle cx="68.12" cy="348.54" r="2.3" fill="#1e1e1e"/>
<circle cx="79.46" cy="345.58" r="2.3" fill="#1e1e1e"/>
<circle cx="94.58" cy="341.35" r="2.3" fill="#1e1e1e"/>
<circle cx="105.92" cy="339.24" r="2.3" fill="#1e1e1e"/>
<circle cx="121.04" cy="331.62" r="2.3" fill="#1e1e1e"/>
<circle cx="132.38" cy="318.51" r="2.3" fill="#1e1e1e"/>
<polyline points="56.78,358.27 68.12,351.93 79.46,348.12 94.58,343.04 105.92,340.50 121.04,335.85 132.38,322.31" fill="none" stroke="#1e1e1e" stroke-width="1.0" stroke-linejoin="miter"/>
<circle cx="56.78" cy="358.27" r="2.3" fill="#1e1e1e"/>
<circle cx="68.12" cy="351.93" r="2.3" fill="#1e1e1e"/>
<circle cx="79.46" cy="348.12" r="2.3" fill="#1e1e1e"/>
<circle cx="94.58" cy="343.04" r="2.3" fill="#1e1e1e"/>
<circle cx="105.92" cy="340.50" r="2.3" fill="#1e1e1e"/>
<circle cx="121.04" cy="335.85" r="2.3" fill="#1e1e1e"/>
<circle cx="132.38" cy="322.31" r="2.3" fill="#1e1e1e"/>
<polyline points="56.78,358.27 68.12,353.19 79.46,349.81 94.58,344.73 105.92,343.04 121.04,339.66 132.38,332.04" fill="none" stroke="#1e1e1e" stroke-width="1.0" stroke-linejoin="miter"/>
<circle cx="56.78" cy="358.27" r="2.3" fill="#1e1e1e"/>
<circle cx="68.12" cy="353.19" r="2.3" fill="#1e1e1e"/>
<circle cx="79.46" cy="349.81" r="2.3" fill="#1e1e1e"/>
<circle cx="94.58" cy="344.73" r="2.3" fill="#1e1e1e"/>
<circle cx="105.92" cy="343.04" r="2.3" fill="#1e1e1e"/>
<circle cx="121.04" cy="339.66" r="2.3" fill="#1e1e1e"/>
<circle cx="132.38" cy="332.04" r="2.3" fill="#1e1e1e"/>
<polyline points="56.78,358.27 68.12,354.04 79.46,351.50 94.58,347.27 105.92,344.73 121.04,342.20 132.38,337.12" fill="none" stroke="#1e1e1e" stroke-width="1.0" stroke-linejoin="miter"/>
<circle cx="56.78" cy="358.27" r="2.3" fill="#1e1e1e"/>
<circle cx="68.12" cy="354.04" r="2.3" fill="#1e1e1e"/>
<circle cx="79.46" cy="351.50" r="2.3" fill="#1e1e1e"/>
<circle cx="94.58" cy="347.27" r="2.3" fill="#1e1e1e"/>
<circle cx="105.92" cy="344.73" r="2.3" fill="#1e1e1e"/>
<circle cx="121.04" cy="342.20" r="2.3" fill="#1e1e1e"/>
<circle cx="132.38" cy="337.12" r="2.3" fill="#1e1e1e"/>
<polyline points="56.78,358.27 68.12,354.89 79.46,352.77 94.58,348.96 105.92,346.43 121.04,344.31 132.38,341.35" fill="none" stroke="#1e1e1e" stroke-width="1.0" stroke-linejoin="miter"/>
<circle cx="56.78" cy="358.27" r="2.3" fill="#1e1e1e"/>
<circle cx="68.12" cy="354.89" r="2.3" fill="#1e1e1e"/>
<circle cx="79.46" cy="352.77" r="2.3" fill="#1e1e1e"/>
<circle cx="94.58" cy="348.96" r="2.3" fill="#1e1e1e"/>
<circle cx="105.92" cy="346.43" r="2.3" fill="#1e1e1e"/>
<circle cx="121.04" cy="344.31" r="2.3" fill="#1e1e1e"/>
<circle cx="132.38" cy="341.35" r="2.3" fill="#1e1e1e"/>
<polyline points="56.78,358.27 68.12,352.77 79.46,351.50 94.58,350.23 105.92,348.54 121.04,345.58 132.38,343.04 147.50,337.97 158.84,332.04 173.96,326.12 185.30,319.35 200.42,304.13 211.76,278.32 226.88,266.06 238.22,260.13" fill="none" stroke="#6a5ea6" stroke-width="0.8" stroke-linejoin="miter"/>
<path d="M54.69 356.84L58.87 356.84L56.78 360.26Z" fill="#51459a"/>
<path d="M66.03 351.35L70.21 351.35L68.12 354.77Z" fill="#51459a"/>
<path d="M77.37 350.08L81.55 350.08L79.46 353.50Z" fill="#51459a"/>
<path d="M92.49 348.81L96.67 348.81L94.58 352.23Z" fill="#51459a"/>
<path d="M103.83 347.12L108.01 347.12L105.92 350.54Z" fill="#51459a"/>
<path d="M118.95 344.15L123.13 344.15L121.04 347.57Z" fill="#51459a"/>
<path d="M130.29 341.62L134.47 341.62L132.38 345.04Z" fill="#51459a"/>
<path d="M145.41 336.54L149.59 336.54L147.50 339.96Z" fill="#51459a"/>
<path d="M156.75 330.62L160.93 330.62L158.84 334.04Z" fill="#51459a"/>
<path d="M171.87 324.70L176.05 324.70L173.96 328.12Z" fill="#51459a"/>
<path d="M183.21 317.93L187.39 317.93L185.30 321.35Z" fill="#51459a"/>
<path d="M198.33 302.70L202.51 302.70L200.42 306.12Z" fill="#51459a"/>
<path d="M209.67 276.90L213.85 276.90L211.76 280.32Z" fill="#51459a"/>
<path d="M224.79 264.63L228.97 264.63L226.88 268.05Z" fill="#51459a"/>
<path d="M236.13 258.71L240.31 258.71L238.22 262.13Z" fill="#51459a"/>
<polyline points="56.78,358.27 68.12,354.04 79.46,352.77 94.58,351.50 105.92,349.81 121.04,347.27 132.38,345.58 147.50,341.35 158.84,336.27 173.96,330.35 185.30,324.85 200.42,318.08 211.76,298.63 226.88,288.05 238.22,260.13" fill="none" stroke="#6a5ea6" stroke-width="0.8" stroke-linejoin="miter"/>
<path d="M54.69 356.84L58.87 356.84L56.78 360.26Z" fill="#51459a"/>
<path d="M66.03 352.62L70.21 352.62L68.12 356.04Z" fill="#51459a"/>
<path d="M77.37 351.35L81.55 351.35L79.46 354.77Z" fill="#51459a"/>
<path d="M92.49 350.08L96.67 350.08L94.58 353.50Z" fill="#51459a"/>
<path d="M103.83 348.38L108.01 348.38L105.92 351.81Z" fill="#51459a"/>
<path d="M118.95 345.85L123.13 345.85L121.04 349.27Z" fill="#51459a"/>
<path d="M130.29 344.15L134.47 344.15L132.38 347.57Z" fill="#51459a"/>
<path d="M145.41 339.93L149.59 339.93L147.50 343.35Z" fill="#51459a"/>
<path d="M156.75 334.85L160.93 334.85L158.84 338.27Z" fill="#51459a"/>
<path d="M171.87 328.93L176.05 328.93L173.96 332.35Z" fill="#51459a"/>
<path d="M183.21 323.43L187.39 323.43L185.30 326.85Z" fill="#51459a"/>
<path d="M198.33 316.66L202.51 316.66L200.42 320.08Z" fill="#51459a"/>
<path d="M209.67 297.20L213.85 297.20L211.76 300.62Z" fill="#51459a"/>
<path d="M224.79 286.63L228.97 286.63L226.88 290.05Z" fill="#51459a"/>
<path d="M236.13 258.71L240.31 258.71L238.22 262.13Z" fill="#51459a"/>
<polyline points="56.78,358.27 68.12,354.89 79.46,353.62 94.58,352.35 105.92,351.08 121.04,348.96 132.38,347.69 147.50,343.89 158.84,338.81 173.96,333.74 185.30,328.66 200.42,321.05 211.76,308.36 226.88,296.51 238.22,281.28" fill="none" stroke="#6a5ea6" stroke-width="0.8" stroke-linejoin="miter"/>
<path d="M54.69 356.84L58.87 356.84L56.78 360.26Z" fill="#51459a"/>
<path d="M66.03 353.46L70.21 353.46L68.12 356.88Z" fill="#51459a"/>
<path d="M77.37 352.19L81.55 352.19L79.46 355.61Z" fill="#51459a"/>
<path d="M92.49 350.92L96.67 350.92L94.58 354.34Z" fill="#51459a"/>
<path d="M103.83 349.65L108.01 349.65L105.92 353.07Z" fill="#51459a"/>
<path d="M118.95 347.54L123.13 347.54L121.04 350.96Z" fill="#51459a"/>
<path d="M130.29 346.27L134.47 346.27L132.38 349.69Z" fill="#51459a"/>
<path d="M145.41 342.46L149.59 342.46L147.50 345.88Z" fill="#51459a"/>
<path d="M156.75 337.39L160.93 337.39L158.84 340.81Z" fill="#51459a"/>
<path d="M171.87 332.31L176.05 332.31L173.96 335.73Z" fill="#51459a"/>
<path d="M183.21 327.23L187.39 327.23L185.30 330.65Z" fill="#51459a"/>
<path d="M198.33 319.62L202.51 319.62L200.42 323.04Z" fill="#51459a"/>
<path d="M209.67 306.93L213.85 306.93L211.76 310.35Z" fill="#51459a"/>
<path d="M224.79 295.09L228.97 295.09L226.88 298.51Z" fill="#51459a"/>
<path d="M236.13 279.86L240.31 279.86L238.22 283.28Z" fill="#51459a"/>
<polyline points="56.78,358.27 68.12,343.46 79.46,348.12 94.58,347.27 105.92,346.00 121.04,344.73 132.38,343.89 147.50,342.20 158.84,340.50 173.96,335.85 185.30,331.62 200.42,323.58 211.76,312.59 226.88,309.20 238.22,288.90" fill="none" stroke="#6a5ea6" stroke-width="0.8" stroke-linejoin="miter"/>
<path d="M54.69 356.84L58.87 356.84L56.78 360.26Z" fill="#51459a"/>
<path d="M66.03 342.04L70.21 342.04L68.12 345.46Z" fill="#51459a"/>
<path d="M77.37 346.69L81.55 346.69L79.46 350.11Z" fill="#51459a"/>
<path d="M92.49 345.85L96.67 345.85L94.58 349.27Z" fill="#51459a"/>
<path d="M103.83 344.58L108.01 344.58L105.92 348.00Z" fill="#51459a"/>
<path d="M118.95 343.31L123.13 343.31L121.04 346.73Z" fill="#51459a"/>
<path d="M130.29 342.46L134.47 342.46L132.38 345.88Z" fill="#51459a"/>
<path d="M145.41 340.77L149.59 340.77L147.50 344.19Z" fill="#51459a"/>
<path d="M156.75 339.08L160.93 339.08L158.84 342.50Z" fill="#51459a"/>
<path d="M171.87 334.43L176.05 334.43L173.96 337.85Z" fill="#51459a"/>
<path d="M183.21 330.20L187.39 330.20L185.30 333.62Z" fill="#51459a"/>
<path d="M198.33 322.16L202.51 322.16L200.42 325.58Z" fill="#51459a"/>
<path d="M209.67 311.16L213.85 311.16L211.76 314.58Z" fill="#51459a"/>
<path d="M224.79 307.78L228.97 307.78L226.88 311.20Z" fill="#51459a"/>
<path d="M236.13 287.47L240.31 287.47L238.22 290.89Z" fill="#51459a"/>
<polyline points="56.78,358.27 68.12,355.73 79.46,354.46 94.58,353.19 105.92,351.93 121.04,350.23 132.38,348.96 147.50,346.00 158.84,342.20 173.96,337.54 185.30,333.74 200.42,327.81 211.76,318.51 226.88,313.43 238.22,294.40" fill="none" stroke="#6a5ea6" stroke-width="0.8" stroke-linejoin="miter"/>
<path d="M54.69 356.84L58.87 356.84L56.78 360.26Z" fill="#51459a"/>
<path d="M66.03 354.31L70.21 354.31L68.12 357.73Z" fill="#51459a"/>
<path d="M77.37 353.04L81.55 353.04L79.46 356.46Z" fill="#51459a"/>
<path d="M92.49 351.77L96.67 351.77L94.58 355.19Z" fill="#51459a"/>
<path d="M103.83 350.50L108.01 350.50L105.92 353.92Z" fill="#51459a"/>
<path d="M118.95 348.81L123.13 348.81L121.04 352.23Z" fill="#51459a"/>
<path d="M130.29 347.54L134.47 347.54L132.38 350.96Z" fill="#51459a"/>
<path d="M145.41 344.58L149.59 344.58L147.50 348.00Z" fill="#51459a"/>
<path d="M156.75 340.77L160.93 340.77L158.84 344.19Z" fill="#51459a"/>
<path d="M171.87 336.12L176.05 336.12L173.96 339.54Z" fill="#51459a"/>
<path d="M183.21 332.31L187.39 332.31L185.30 335.73Z" fill="#51459a"/>
<path d="M198.33 326.39L202.51 326.39L200.42 329.81Z" fill="#51459a"/>
<path d="M209.67 317.08L213.85 317.08L211.76 320.50Z" fill="#51459a"/>
<path d="M224.79 312.01L228.97 312.01L226.88 315.43Z" fill="#51459a"/>
<path d="M236.13 292.97L240.31 292.97L238.22 296.39Z" fill="#51459a"/>
<polyline points="56.78,358.27 68.12,354.46 79.46,353.19 94.58,351.93 105.92,350.66 121.04,348.54 132.38,346.43 147.50,343.04 158.84,337.97 173.96,334.58 185.30,329.51 200.42,324.43 211.76,321.05 226.88,313.43 238.22,302.86" fill="none" stroke="#6a5ea6" stroke-width="0.8" stroke-linejoin="miter"/>
<path d="M54.69 356.84L58.87 356.84L56.78 360.26Z" fill="#51459a"/>
<path d="M66.03 353.04L70.21 353.04L68.12 356.46Z" fill="#51459a"/>
<path d="M77.37 351.77L81.55 351.77L79.46 355.19Z" fill="#51459a"/>
<path d="M92.49 350.50L96.67 350.50L94.58 353.92Z" fill="#51459a"/>
<path d="M103.83 349.23L108.01 349.23L105.92 352.65Z" fill="#51459a"/>
<path d="M118.95 347.12L123.13 347.12L121.04 350.54Z" fill="#51459a"/>
<path d="M130.29 345.00L134.47 345.00L132.38 348.42Z" fill="#51459a"/>
<path d="M145.41 341.62L149.59 341.62L147.50 345.04Z" fill="#51459a"/>
<path d="M156.75 336.54L160.93 336.54L158.84 339.96Z" fill="#51459a"/>
<path d="M171.87 333.16L176.05 333.16L173.96 336.58Z" fill="#51459a"/>
<path d="M183.21 328.08L187.39 328.08L185.30 331.50Z" fill="#51459a"/>
<path d="M198.33 323.00L202.51 323.00L200.42 326.43Z" fill="#51459a"/>
<path d="M209.67 319.62L213.85 319.62L211.76 323.04Z" fill="#51459a"/>
<path d="M224.79 312.01L228.97 312.01L226.88 315.43Z" fill="#51459a"/>
<path d="M236.13 301.43L240.31 301.43L238.22 304.85Z" fill="#51459a"/>
<polyline points="56.78,358.27 68.12,356.15 79.46,355.31 94.58,354.46 105.92,353.62 121.04,352.35 132.38,351.08 147.50,348.54 158.84,344.73 173.96,341.35 185.30,337.97 200.42,335.00 211.76,327.39 226.88,325.28 238.22,313.43" fill="none" stroke="#6a5ea6" stroke-width="0.8" stroke-linejoin="miter"/>
<path d="M54.69 356.84L58.87 356.84L56.78 360.26Z" fill="#51459a"/>
<path d="M66.03 354.73L70.21 354.73L68.12 358.15Z" fill="#51459a"/>
<path d="M77.37 353.88L81.55 353.88L79.46 357.30Z" fill="#51459a"/>
<path d="M92.49 353.04L96.67 353.04L94.58 356.46Z" fill="#51459a"/>
<path d="M103.83 352.19L108.01 352.19L105.92 355.61Z" fill="#51459a"/>
<path d="M118.95 350.92L123.13 350.92L121.04 354.34Z" fill="#51459a"/>
<path d="M130.29 349.65L134.47 349.65L132.38 353.07Z" fill="#51459a"/>
<path d="M145.41 347.12L149.59 347.12L147.50 350.54Z" fill="#51459a"/>
<path d="M156.75 343.31L160.93 343.31L158.84 346.73Z" fill="#51459a"/>
<path d="M171.87 339.93L176.05 339.93L173.96 343.35Z" fill="#51459a"/>
<path d="M183.21 336.54L187.39 336.54L185.30 339.96Z" fill="#51459a"/>
<path d="M198.33 333.58L202.51 333.58L200.42 337.00Z" fill="#51459a"/>
<path d="M209.67 325.97L213.85 325.97L211.76 329.39Z" fill="#51459a"/>
<path d="M224.79 323.85L228.97 323.85L226.88 327.27Z" fill="#51459a"/>
<path d="M236.13 312.01L240.31 312.01L238.22 315.43Z" fill="#51459a"/>
<polyline points="56.78,358.27 68.12,355.31 79.46,354.46 94.58,354.04 105.92,352.77 121.04,351.50 132.38,350.23 147.50,347.27 158.84,343.46 173.96,340.08 185.30,336.27 200.42,332.89 211.76,327.39 226.88,327.81 238.22,325.28" fill="none" stroke="#6a5ea6" stroke-width="0.8" stroke-linejoin="miter"/>
<path d="M54.69 356.84L58.87 356.84L56.78 360.26Z" fill="#51459a"/>
<path d="M66.03 353.88L70.21 353.88L68.12 357.30Z" fill="#51459a"/>
<path d="M77.37 353.04L81.55 353.04L79.46 356.46Z" fill="#51459a"/>
<path d="M92.49 352.62L96.67 352.62L94.58 356.04Z" fill="#51459a"/>
<path d="M103.83 351.35L108.01 351.35L105.92 354.77Z" fill="#51459a"/>
<path d="M118.95 350.08L123.13 350.08L121.04 353.50Z" fill="#51459a"/>
<path d="M130.29 348.81L134.47 348.81L132.38 352.23Z" fill="#51459a"/>
<path d="M145.41 345.85L149.59 345.85L147.50 349.27Z" fill="#51459a"/>
<path d="M156.75 342.04L160.93 342.04L158.84 345.46Z" fill="#51459a"/>
<path d="M171.87 338.66L176.05 338.66L173.96 342.08Z" fill="#51459a"/>
<path d="M183.21 334.85L187.39 334.85L185.30 338.27Z" fill="#51459a"/>
<path d="M198.33 331.46L202.51 331.46L200.42 334.88Z" fill="#51459a"/>
<path d="M209.67 325.97L213.85 325.97L211.76 329.39Z" fill="#51459a"/>
<path d="M224.79 326.39L228.97 326.39L226.88 329.81Z" fill="#51459a"/>
<path d="M236.13 323.85L240.31 323.85L238.22 327.27Z" fill="#51459a"/>
<polyline points="56.78,358.27 68.12,356.58 79.46,355.73 94.58,355.31 105.92,354.46 121.04,353.19 132.38,352.35 147.50,350.66 158.84,348.12 173.96,345.58 185.30,343.04 200.42,340.08 211.76,338.81 226.88,331.20 238.22,329.51" fill="none" stroke="#6a5ea6" stroke-width="0.8" stroke-linejoin="miter"/>
<path d="M54.69 356.84L58.87 356.84L56.78 360.26Z" fill="#51459a"/>
<path d="M66.03 355.15L70.21 355.15L68.12 358.57Z" fill="#51459a"/>
<path d="M77.37 354.31L81.55 354.31L79.46 357.73Z" fill="#51459a"/>
<path d="M92.49 353.88L96.67 353.88L94.58 357.30Z" fill="#51459a"/>
<path d="M103.83 353.04L108.01 353.04L105.92 356.46Z" fill="#51459a"/>
<path d="M118.95 351.77L123.13 351.77L121.04 355.19Z" fill="#51459a"/>
<path d="M130.29 350.92L134.47 350.92L132.38 354.34Z" fill="#51459a"/>
<path d="M145.41 349.23L149.59 349.23L147.50 352.65Z" fill="#51459a"/>
<path d="M156.75 346.69L160.93 346.69L158.84 350.11Z" fill="#51459a"/>
<path d="M171.87 344.15L176.05 344.15L173.96 347.57Z" fill="#51459a"/>
<path d="M183.21 341.62L187.39 341.62L185.30 345.04Z" fill="#51459a"/>
<path d="M198.33 338.66L202.51 338.66L200.42 342.08Z" fill="#51459a"/>
<path d="M209.67 337.39L213.85 337.39L211.76 340.81Z" fill="#51459a"/>
<path d="M224.79 329.77L228.97 329.77L226.88 333.19Z" fill="#51459a"/>
<path d="M236.13 328.08L240.31 328.08L238.22 331.50Z" fill="#51459a"/>
<polyline points="56.78,358.27 68.12,352.86 79.46,351.29 94.58,349.13 105.92,347.61 121.04,345.58 132.38,341.73 147.50,323.58 158.84,308.78 173.96,301.16 185.30,301.16 200.42,276.21" fill="none" stroke="#3d55b5" stroke-width="0.9" stroke-linejoin="miter"/>
<rect x="55.03" y="356.52" width="3.5" height="3.5" fill="#3d55b5"/>
<rect x="66.37" y="351.11" width="3.5" height="3.5" fill="#3d55b5"/>
<rect x="77.71" y="349.54" width="3.5" height="3.5" fill="#3d55b5"/>
<rect x="92.83" y="347.38" width="3.5" height="3.5" fill="#3d55b5"/>
<rect x="104.17" y="345.86" width="3.5" height="3.5" fill="#3d55b5"/>
<rect x="119.29" y="343.83" width="3.5" height="3.5" fill="#3d55b5"/>
<rect x="130.63" y="339.98" width="3.5" height="3.5" fill="#3d55b5"/>
<rect x="145.75" y="321.83" width="3.5" height="3.5" fill="#3d55b5"/>
<rect x="157.09" y="307.03" width="3.5" height="3.5" fill="#3d55b5"/>
<rect x="172.21" y="299.41" width="3.5" height="3.5" fill="#3d55b5"/>
<rect x="183.55" y="299.41" width="3.5" height="3.5" fill="#3d55b5"/>
<rect x="198.67" y="274.46" width="3.5" height="3.5" fill="#3d55b5"/>
<polyline points="56.78,358.27 68.12,353.87 79.46,352.24 94.58,350.35 105.92,348.79 121.04,346.85 132.38,339.57 147.50,328.66 158.84,314.28 173.96,312.59 185.30,307.09 200.42,280.44" fill="none" stroke="#3d55b5" stroke-width="0.9" stroke-linejoin="miter"/>
<rect x="55.03" y="356.52" width="3.5" height="3.5" fill="#3d55b5"/>
<rect x="66.37" y="352.12" width="3.5" height="3.5" fill="#3d55b5"/>
<rect x="77.71" y="350.49" width="3.5" height="3.5" fill="#3d55b5"/>
<rect x="92.83" y="348.60" width="3.5" height="3.5" fill="#3d55b5"/>
<rect x="104.17" y="347.04" width="3.5" height="3.5" fill="#3d55b5"/>
<rect x="119.29" y="345.10" width="3.5" height="3.5" fill="#3d55b5"/>
<rect x="130.63" y="337.82" width="3.5" height="3.5" fill="#3d55b5"/>
<rect x="145.75" y="326.91" width="3.5" height="3.5" fill="#3d55b5"/>
<rect x="157.09" y="312.53" width="3.5" height="3.5" fill="#3d55b5"/>
<rect x="172.21" y="310.84" width="3.5" height="3.5" fill="#3d55b5"/>
<rect x="183.55" y="305.34" width="3.5" height="3.5" fill="#3d55b5"/>
<rect x="198.67" y="278.69" width="3.5" height="3.5" fill="#3d55b5"/>
<polyline points="56.78,358.27 68.12,354.55 79.46,353.19 94.58,351.57 105.92,350.57 121.04,348.75 132.38,346.05 147.50,333.74 158.84,320.20 173.96,320.20 185.30,313.43 200.42,288.90" fill="none" stroke="#3d55b5" stroke-width="0.9" stroke-linejoin="miter"/>
<rect x="55.03" y="356.52" width="3.5" height="3.5" fill="#3d55b5"/>
<rect x="66.37" y="352.80" width="3.5" height="3.5" fill="#3d55b5"/>
<rect x="77.71" y="351.44" width="3.5" height="3.5" fill="#3d55b5"/>
<rect x="92.83" y="349.82" width="3.5" height="3.5" fill="#3d55b5"/>
<rect x="104.17" y="348.82" width="3.5" height="3.5" fill="#3d55b5"/>
<rect x="119.29" y="347.00" width="3.5" height="3.5" fill="#3d55b5"/>
<rect x="130.63" y="344.30" width="3.5" height="3.5" fill="#3d55b5"/>
<rect x="145.75" y="331.99" width="3.5" height="3.5" fill="#3d55b5"/>
<rect x="157.09" y="318.45" width="3.5" height="3.5" fill="#3d55b5"/>
<rect x="172.21" y="318.45" width="3.5" height="3.5" fill="#3d55b5"/>
<rect x="183.55" y="311.68" width="3.5" height="3.5" fill="#3d55b5"/>
<rect x="198.67" y="287.15" width="3.5" height="3.5" fill="#3d55b5"/>
<polyline points="56.78,358.27 68.12,354.89 79.46,353.83 94.58,352.79 105.92,351.76 121.04,350.34 132.38,347.84 147.50,339.24 158.84,325.28 173.96,325.28 185.30,318.51 200.42,296.94" fill="none" stroke="#3d55b5" stroke-width="0.9" stroke-linejoin="miter"/>
<rect x="55.03" y="356.52" width="3.5" height="3.5" fill="#3d55b5"/>
<rect x="66.37" y="353.14" width="3.5" height="3.5" fill="#3d55b5"/>
<rect x="77.71" y="352.08" width="3.5" height="3.5" fill="#3d55b5"/>
<rect x="92.83" y="351.04" width="3.5" height="3.5" fill="#3d55b5"/>
<rect x="104.17" y="350.01" width="3.5" height="3.5" fill="#3d55b5"/>
<rect x="119.29" y="348.59" width="3.5" height="3.5" fill="#3d55b5"/>
<rect x="130.63" y="346.09" width="3.5" height="3.5" fill="#3d55b5"/>
<rect x="145.75" y="337.49" width="3.5" height="3.5" fill="#3d55b5"/>
<rect x="157.09" y="323.53" width="3.5" height="3.5" fill="#3d55b5"/>
<rect x="172.21" y="323.53" width="3.5" height="3.5" fill="#3d55b5"/>
<rect x="183.55" y="316.76" width="3.5" height="3.5" fill="#3d55b5"/>
<rect x="198.67" y="295.19" width="3.5" height="3.5" fill="#3d55b5"/>
<polyline points="56.78,358.27 68.12,355.56 79.46,354.78 94.58,354.01 105.92,353.53 121.04,352.56 132.38,351.44 147.50,342.62 158.84,332.47 173.96,332.47 185.30,326.12 200.42,301.16" fill="none" stroke="#3d55b5" stroke-width="0.9" stroke-linejoin="miter"/>
<rect x="55.03" y="356.52" width="3.5" height="3.5" fill="#3d55b5"/>
<rect x="66.37" y="353.81" width="3.5" height="3.5" fill="#3d55b5"/>
<rect x="77.71" y="353.03" width="3.5" height="3.5" fill="#3d55b5"/>
<rect x="92.83" y="352.26" width="3.5" height="3.5" fill="#3d55b5"/>
<rect x="104.17" y="351.78" width="3.5" height="3.5" fill="#3d55b5"/>
<rect x="119.29" y="350.81" width="3.5" height="3.5" fill="#3d55b5"/>
<rect x="130.63" y="349.69" width="3.5" height="3.5" fill="#3d55b5"/>
<rect x="145.75" y="340.87" width="3.5" height="3.5" fill="#3d55b5"/>
<rect x="157.09" y="330.72" width="3.5" height="3.5" fill="#3d55b5"/>
<rect x="172.21" y="330.72" width="3.5" height="3.5" fill="#3d55b5"/>
<rect x="183.55" y="324.37" width="3.5" height="3.5" fill="#3d55b5"/>
<rect x="198.67" y="299.41" width="3.5" height="3.5" fill="#3d55b5"/>
<polyline points="56.78,358.27 68.12,355.90 79.46,355.10 94.58,353.40 105.92,352.64 121.04,351.29 132.38,349.28 147.50,346.43 158.84,338.39 173.96,338.39 185.30,332.47 200.42,309.62" fill="none" stroke="#3d55b5" stroke-width="0.9" stroke-linejoin="miter"/>
<rect x="55.03" y="356.52" width="3.5" height="3.5" fill="#3d55b5"/>
<rect x="66.37" y="354.15" width="3.5" height="3.5" fill="#3d55b5"/>
<rect x="77.71" y="353.35" width="3.5" height="3.5" fill="#3d55b5"/>
<rect x="92.83" y="351.65" width="3.5" height="3.5" fill="#3d55b5"/>
<rect x="104.17" y="350.89" width="3.5" height="3.5" fill="#3d55b5"/>
<rect x="119.29" y="349.54" width="3.5" height="3.5" fill="#3d55b5"/>
<rect x="130.63" y="347.53" width="3.5" height="3.5" fill="#3d55b5"/>
<rect x="145.75" y="344.68" width="3.5" height="3.5" fill="#3d55b5"/>
<rect x="157.09" y="336.64" width="3.5" height="3.5" fill="#3d55b5"/>
<rect x="172.21" y="336.64" width="3.5" height="3.5" fill="#3d55b5"/>
<rect x="183.55" y="330.72" width="3.5" height="3.5" fill="#3d55b5"/>
<rect x="198.67" y="307.88" width="3.5" height="3.5" fill="#3d55b5"/>
<polyline points="56.78,358.27 68.12,356.24 79.46,355.73 94.58,355.22 105.92,355.01 121.04,354.46 132.38,353.60 147.50,350.23 158.84,341.77 173.96,340.50 185.30,339.24 200.42,313.43" fill="none" stroke="#3d55b5" stroke-width="0.9" stroke-linejoin="miter"/>
<rect x="55.03" y="356.52" width="3.5" height="3.5" fill="#3d55b5"/>
<rect x="66.37" y="354.49" width="3.5" height="3.5" fill="#3d55b5"/>
<rect x="77.71" y="353.98" width="3.5" height="3.5" fill="#3d55b5"/>
<rect x="92.83" y="353.47" width="3.5" height="3.5" fill="#3d55b5"/>
<rect x="104.17" y="353.26" width="3.5" height="3.5" fill="#3d55b5"/>
<rect x="119.29" y="352.71" width="3.5" height="3.5" fill="#3d55b5"/>
<rect x="130.63" y="351.85" width="3.5" height="3.5" fill="#3d55b5"/>
<rect x="145.75" y="348.48" width="3.5" height="3.5" fill="#3d55b5"/>
<rect x="157.09" y="340.02" width="3.5" height="3.5" fill="#3d55b5"/>
<rect x="172.21" y="338.75" width="3.5" height="3.5" fill="#3d55b5"/>
<rect x="183.55" y="337.49" width="3.5" height="3.5" fill="#3d55b5"/>
<rect x="198.67" y="311.68" width="3.5" height="3.5" fill="#3d55b5"/>
<polyline points="56.78,358.27 68.12,355.90 79.46,355.41 94.58,354.62 105.92,354.12 121.04,353.51 132.38,352.52 147.50,348.54 158.84,345.16 173.96,343.89 185.30,337.12 200.42,315.97" fill="none" stroke="#3d55b5" stroke-width="0.9" stroke-linejoin="miter"/>
<rect x="55.03" y="356.52" width="3.5" height="3.5" fill="#3d55b5"/>
<rect x="66.37" y="354.15" width="3.5" height="3.5" fill="#3d55b5"/>
<rect x="77.71" y="353.66" width="3.5" height="3.5" fill="#3d55b5"/>
<rect x="92.83" y="352.87" width="3.5" height="3.5" fill="#3d55b5"/>
<rect x="104.17" y="352.37" width="3.5" height="3.5" fill="#3d55b5"/>
<rect x="119.29" y="351.76" width="3.5" height="3.5" fill="#3d55b5"/>
<rect x="130.63" y="350.77" width="3.5" height="3.5" fill="#3d55b5"/>
<rect x="145.75" y="346.79" width="3.5" height="3.5" fill="#3d55b5"/>
<rect x="157.09" y="343.41" width="3.5" height="3.5" fill="#3d55b5"/>
<rect x="172.21" y="342.14" width="3.5" height="3.5" fill="#3d55b5"/>
<rect x="183.55" y="335.37" width="3.5" height="3.5" fill="#3d55b5"/>
<rect x="198.67" y="314.22" width="3.5" height="3.5" fill="#3d55b5"/>
<polyline points="56.78,358.27 68.12,353.53 79.46,352.88 94.58,347.31 105.92,345.24 121.04,346.21 132.38,343.89 147.50,337.12 158.84,330.35 173.96,321.89 185.30,310.89 200.42,283.82" fill="none" stroke="#3d55b5" stroke-width="0.9" stroke-linejoin="miter"/>
<rect x="55.03" y="356.52" width="3.5" height="3.5" fill="#3d55b5"/>
<rect x="66.37" y="351.78" width="3.5" height="3.5" fill="#3d55b5"/>
<rect x="77.71" y="351.13" width="3.5" height="3.5" fill="#3d55b5"/>
<rect x="92.83" y="345.56" width="3.5" height="3.5" fill="#3d55b5"/>
<rect x="104.17" y="343.49" width="3.5" height="3.5" fill="#3d55b5"/>
<rect x="119.29" y="344.46" width="3.5" height="3.5" fill="#3d55b5"/>
<rect x="130.63" y="342.14" width="3.5" height="3.5" fill="#3d55b5"/>
<rect x="145.75" y="335.37" width="3.5" height="3.5" fill="#3d55b5"/>
<rect x="157.09" y="328.60" width="3.5" height="3.5" fill="#3d55b5"/>
<rect x="172.21" y="320.14" width="3.5" height="3.5" fill="#3d55b5"/>
<rect x="183.55" y="309.14" width="3.5" height="3.5" fill="#3d55b5"/>
<rect x="198.67" y="282.07" width="3.5" height="3.5" fill="#3d55b5"/>
<polyline points="56.78,358.27 68.12,356.58 79.46,356.05 94.58,355.83 105.92,356.49 121.04,355.10 132.38,353.24 147.50,347.27 158.84,340.50 173.96,335.43 185.30,324.43 200.42,306.66" fill="none" stroke="#3d55b5" stroke-width="0.9" stroke-linejoin="miter"/>
<rect x="55.03" y="356.52" width="3.5" height="3.5" fill="#3d55b5"/>
<rect x="66.37" y="354.83" width="3.5" height="3.5" fill="#3d55b5"/>
<rect x="77.71" y="354.30" width="3.5" height="3.5" fill="#3d55b5"/>
<rect x="92.83" y="354.08" width="3.5" height="3.5" fill="#3d55b5"/>
<rect x="104.17" y="354.74" width="3.5" height="3.5" fill="#3d55b5"/>
<rect x="119.29" y="353.35" width="3.5" height="3.5" fill="#3d55b5"/>
<rect x="130.63" y="351.49" width="3.5" height="3.5" fill="#3d55b5"/>
<rect x="145.75" y="345.52" width="3.5" height="3.5" fill="#3d55b5"/>
<rect x="157.09" y="338.75" width="3.5" height="3.5" fill="#3d55b5"/>
<rect x="172.21" y="333.68" width="3.5" height="3.5" fill="#3d55b5"/>
<rect x="183.55" y="322.68" width="3.5" height="3.5" fill="#3d55b5"/>
<rect x="198.67" y="304.91" width="3.5" height="3.5" fill="#3d55b5"/>
<circle cx="56.78" cy="358.27" r="2.3" fill="#1e1e1e"/>
<line x1="60.00" y1="226.30" x2="73.80" y2="226.30" stroke="#1e1e1e" stroke-width="1.0"/>
<circle cx="67.00" cy="226.30" r="2.1" fill="#1e1e1e"/>
<text x="81.30" y="229.50" font-size="9" text-anchor="start" font-weight="bold" fill="#1a1a1a">Vehicle</text>
<line x1="60.00" y1="244.50" x2="73.80" y2="244.50" stroke="#b5b5b5" stroke-width="1.0"/>
<path d="M67.00 242.50L69.00 244.50L67.00 246.50L65.00 244.50Z" fill="#b5b5b5"/>
<text x="81.30" y="247.70" font-size="9" text-anchor="start" font-weight="bold" fill="#1a1a1a">ART899</text>
<line x1="128.00" y1="227.00" x2="141.30" y2="227.00" stroke="#3d55b5" stroke-width="1.0"/>
<rect x="132.70" y="225.10" width="3.8" height="3.8" fill="#3d55b5"/>
<text x="150.00" y="230.20" font-size="9" text-anchor="start" font-weight="bold" fill="#1a1a1a">10 × 2 Gy</text>
<line x1="128.00" y1="244.50" x2="141.30" y2="244.50" stroke="#6a5ea6" stroke-width="1.0"/>
<path d="M132.51 243.07L136.69 243.07L134.60 246.50Z" fill="#6a5ea6"/>
<text x="150.00" y="247.70" font-size="9" text-anchor="start" font-weight="bold" fill="#1a1a1a">10 × 2 Gy + ART899</text>
<text transform="translate(286.00 217.20) scale(0.92 1)" font-size="13.8" font-weight="bold" fill="#111">D</text>
<line x1="338.00" y1="233.80" x2="338.00" y2="353.10" stroke="#1a1a1a" stroke-width="1.25"/>
<line x1="337.40" y1="352.50" x2="515.50" y2="352.50" stroke="#1a1a1a" stroke-width="1.25"/>
<line x1="333.00" y1="352.50" x2="338.00" y2="352.50" stroke="#1a1a1a" stroke-width="1.25"/>
<text x="331.70" y="355.20" font-size="8.5" text-anchor="end" font-weight="bold" fill="#1a1a1a">0</text>
<line x1="333.00" y1="331.00" x2="338.00" y2="331.00" stroke="#1a1a1a" stroke-width="1.25"/>
<text x="331.70" y="333.70" font-size="8.5" text-anchor="end" font-weight="bold" fill="#1a1a1a">20</text>
<line x1="333.00" y1="309.50" x2="338.00" y2="309.50" stroke="#1a1a1a" stroke-width="1.25"/>
<text x="331.70" y="312.20" font-size="8.5" text-anchor="end" font-weight="bold" fill="#1a1a1a">40</text>
<line x1="333.00" y1="288.00" x2="338.00" y2="288.00" stroke="#1a1a1a" stroke-width="1.25"/>
<text x="331.70" y="290.70" font-size="8.5" text-anchor="end" font-weight="bold" fill="#1a1a1a">60</text>
<line x1="333.00" y1="266.50" x2="338.00" y2="266.50" stroke="#1a1a1a" stroke-width="1.25"/>
<text x="331.70" y="269.20" font-size="8.5" text-anchor="end" font-weight="bold" fill="#1a1a1a">80</text>
<line x1="333.00" y1="245.00" x2="338.00" y2="245.00" stroke="#1a1a1a" stroke-width="1.25"/>
<text x="331.70" y="247.70" font-size="8.5" text-anchor="end" font-weight="bold" fill="#1a1a1a">100</text>
<line x1="338.00" y1="352.50" x2="338.00" y2="357.00" stroke="#1a1a1a" stroke-width="1.25"/>
<text x="338.00" y="367.30" font-size="8.5" text-anchor="middle" font-weight="bold" fill="#1a1a1a">0</text>
<line x1="373.50" y1="352.50" x2="373.50" y2="357.00" stroke="#1a1a1a" stroke-width="1.25"/>
<text x="373.50" y="367.30" font-size="8.5" text-anchor="middle" font-weight="bold" fill="#1a1a1a">10</text>
<line x1="409.00" y1="352.50" x2="409.00" y2="357.00" stroke="#1a1a1a" stroke-width="1.25"/>
<text x="409.00" y="367.30" font-size="8.5" text-anchor="middle" font-weight="bold" fill="#1a1a1a">20</text>
<line x1="444.50" y1="352.50" x2="444.50" y2="357.00" stroke="#1a1a1a" stroke-width="1.25"/>
<text x="444.50" y="367.30" font-size="8.5" text-anchor="middle" font-weight="bold" fill="#1a1a1a">30</text>
<line x1="480.00" y1="352.50" x2="480.00" y2="357.00" stroke="#1a1a1a" stroke-width="1.25"/>
<text x="480.00" y="367.30" font-size="8.5" text-anchor="middle" font-weight="bold" fill="#1a1a1a">40</text>
<line x1="515.50" y1="352.50" x2="515.50" y2="357.00" stroke="#1a1a1a" stroke-width="1.25"/>
<text x="515.50" y="367.30" font-size="8.5" text-anchor="middle" font-weight="bold" fill="#1a1a1a">50</text>
<text x="428.25" y="380.90" font-size="9.5" text-anchor="middle" font-weight="bold" fill="#1a1a1a">Time (days)</text>
<text x="310.30" y="300.50" font-size="9.5" text-anchor="middle" font-weight="bold" fill="#1a1a1a" transform="rotate(-90 310.3 300.5)">Survival (%)</text>
<line x1="412.55" y1="233.80" x2="412.55" y2="352.50" stroke="#222" stroke-width="1.0" stroke-dasharray="1.2,1.8"/>
<polyline points="338.00,245.00 462.25,245.00 462.25,245.00 462.25,245.00 462.25,264.56 476.45,264.56 476.45,264.56 476.45,264.56 476.45,303.59 487.10,303.59 487.10,303.59 487.10,303.59 487.10,323.15 501.30,323.15 501.30,323.15 501.30,323.15 501.30,332.94 511.95,332.94 511.95,332.94 511.95,332.94 511.95,342.72" fill="none" stroke="#5f4f9f" stroke-width="1.6" stroke-linejoin="miter"/>
<polyline points="401.90,245.00 401.90,245.00 401.90,255.75 426.75,255.75 426.75,255.75 426.75,255.75 426.75,288.00 451.60,288.00 451.60,288.00 451.60,288.00 451.60,298.75 462.25,298.75 462.25,298.75 462.25,298.75 462.25,331.00 476.45,331.00 476.45,331.00 476.45,331.00 476.45,341.75" fill="none" stroke="#3a4ca6" stroke-width="1.6" stroke-linejoin="miter"/>
<polyline points="338.00,245.00 401.90,245.00 401.90,245.00 401.90,245.00 401.90,309.50 412.55,309.50 412.55,309.50 412.55,309.50 412.55,304.77" fill="none" stroke="#a8a8a8" stroke-width="1.6" stroke-linejoin="miter"/>
<polyline points="338.00,245.00 387.70,245.00 387.70,245.00 387.70,245.00 387.70,280.80 401.90,280.80 401.90,280.80 401.90,280.80 401.90,304.77 412.55,304.77 412.55,304.77 412.55,304.77 412.55,328.63" fill="none" stroke="#1a1a1a" stroke-width="1.6" stroke-linejoin="miter"/>
<text x="417.00" y="339.00" font-size="9" text-anchor="start" font-weight="bold" fill="#1a1a1a">HR = 2.77</text>
<text x="427" y="348.5" font-size="9" font-weight="bold" fill="#1a1a1a"><tspan font-style="italic">P</tspan> = 0.0048</text>
<polyline points="478.00,345.00 478.00,348.00 511.80,348.00 511.80,345.00" fill="none" stroke="#666" stroke-width="0.9" stroke-linejoin="miter"/>
<line x1="323.30" y1="210.85" x2="336.00" y2="210.85" stroke="#1a1a1a" stroke-width="2.0"/>
<text x="343.80" y="214.50" font-size="9" text-anchor="start" font-weight="bold" fill="#1a1a1a">Vehicle</text>
<line x1="323.30" y1="227.40" x2="336.00" y2="227.40" stroke="#a8a8a8" stroke-width="2.0"/>
<text x="343.80" y="231.20" font-size="9" text-anchor="start" font-weight="bold" fill="#1a1a1a">ART899</text>
<line x1="404.00" y1="210.85" x2="416.80" y2="210.85" stroke="#3a4ca6" stroke-width="2.0"/>
<text x="423.80" y="214.50" font-size="9" text-anchor="start" font-weight="bold" fill="#1a1a1a">10 × 2 Gy</text>
<line x1="404.00" y1="227.40" x2="416.80" y2="227.40" stroke="#5f4f9f" stroke-width="2.0"/>
<text x="423.80" y="231.20" font-size="9" text-anchor="start" font-weight="bold" fill="#1a1a1a">10 × 2 Gy + ART899</text>
<text transform="translate(127.20 423.40) scale(0.92 1)" font-size="13.8" font-weight="bold" fill="#111">E</text>
<line x1="189.60" y1="436.90" x2="189.60" y2="563.10" stroke="#1a1a1a" stroke-width="1.25"/>
<line x1="189.00" y1="562.50" x2="378.98" y2="562.50" stroke="#1a1a1a" stroke-width="1.25"/>
<line x1="184.60" y1="562.50" x2="189.60" y2="562.50" stroke="#1a1a1a" stroke-width="1.25"/>
<text x="183.30" y="565.20" font-size="8.5" text-anchor="end" font-weight="bold" fill="#1a1a1a">23</text>
<line x1="184.60" y1="537.50" x2="189.60" y2="537.50" stroke="#1a1a1a" stroke-width="1.25"/>
<text x="183.30" y="540.20" font-size="8.5" text-anchor="end" font-weight="bold" fill="#1a1a1a">24</text>
<line x1="184.60" y1="512.50" x2="189.60" y2="512.50" stroke="#1a1a1a" stroke-width="1.25"/>
<text x="183.30" y="515.20" font-size="8.5" text-anchor="end" font-weight="bold" fill="#1a1a1a">25</text>
<line x1="184.60" y1="487.50" x2="189.60" y2="487.50" stroke="#1a1a1a" stroke-width="1.25"/>
<text x="183.30" y="490.20" font-size="8.5" text-anchor="end" font-weight="bold" fill="#1a1a1a">26</text>
<line x1="184.60" y1="462.50" x2="189.60" y2="462.50" stroke="#1a1a1a" stroke-width="1.25"/>
<text x="183.30" y="465.20" font-size="8.5" text-anchor="end" font-weight="bold" fill="#1a1a1a">27</text>
<line x1="184.60" y1="437.50" x2="189.60" y2="437.50" stroke="#1a1a1a" stroke-width="1.25"/>
<text x="183.30" y="440.20" font-size="8.5" text-anchor="end" font-weight="bold" fill="#1a1a1a">28</text>
<line x1="189.60" y1="562.50" x2="189.60" y2="567.00" stroke="#1a1a1a" stroke-width="1.25"/>
<line x1="197.16" y1="562.50" x2="197.16" y2="565.10" stroke="#1a1a1a" stroke-width="1.25"/>
<line x1="204.72" y1="562.50" x2="204.72" y2="565.10" stroke="#1a1a1a" stroke-width="1.25"/>
<line x1="212.28" y1="562.50" x2="212.28" y2="565.10" stroke="#1a1a1a" stroke-width="1.25"/>
<line x1="219.84" y1="562.50" x2="219.84" y2="565.10" stroke="#1a1a1a" stroke-width="1.25"/>
<line x1="227.40" y1="562.50" x2="227.40" y2="565.10" stroke="#1a1a1a" stroke-width="1.25"/>
<line x1="234.96" y1="562.50" x2="234.96" y2="565.10" stroke="#1a1a1a" stroke-width="1.25"/>
<line x1="242.52" y1="562.50" x2="242.52" y2="565.10" stroke="#1a1a1a" stroke-width="1.25"/>
<line x1="250.08" y1="562.50" x2="250.08" y2="565.10" stroke="#1a1a1a" stroke-width="1.25"/>
<line x1="257.64" y1="562.50" x2="257.64" y2="565.10" stroke="#1a1a1a" stroke-width="1.25"/>
<line x1="265.20" y1="562.50" x2="265.20" y2="567.00" stroke="#1a1a1a" stroke-width="1.25"/>
<line x1="272.76" y1="562.50" x2="272.76" y2="565.10" stroke="#1a1a1a" stroke-width="1.25"/>
<line x1="280.32" y1="562.50" x2="280.32" y2="565.10" stroke="#1a1a1a" stroke-width="1.25"/>
<line x1="287.88" y1="562.50" x2="287.88" y2="565.10" stroke="#1a1a1a" stroke-width="1.25"/>
<line x1="295.44" y1="562.50" x2="295.44" y2="565.10" stroke="#1a1a1a" stroke-width="1.25"/>
<line x1="303.00" y1="562.50" x2="303.00" y2="565.10" stroke="#1a1a1a" stroke-width="1.25"/>
<line x1="310.56" y1="562.50" x2="310.56" y2="565.10" stroke="#1a1a1a" stroke-width="1.25"/>
<line x1="318.12" y1="562.50" x2="318.12" y2="565.10" stroke="#1a1a1a" stroke-width="1.25"/>
<line x1="325.68" y1="562.50" x2="325.68" y2="565.10" stroke="#1a1a1a" stroke-width="1.25"/>
<line x1="333.24" y1="562.50" x2="333.24" y2="565.10" stroke="#1a1a1a" stroke-width="1.25"/>
<line x1="340.80" y1="562.50" x2="340.80" y2="567.00" stroke="#1a1a1a" stroke-width="1.25"/>
<line x1="348.36" y1="562.50" x2="348.36" y2="565.10" stroke="#1a1a1a" stroke-width="1.25"/>
<line x1="355.92" y1="562.50" x2="355.92" y2="565.10" stroke="#1a1a1a" stroke-width="1.25"/>
<line x1="363.48" y1="562.50" x2="363.48" y2="565.10" stroke="#1a1a1a" stroke-width="1.25"/>
<line x1="371.04" y1="562.50" x2="371.04" y2="565.10" stroke="#1a1a1a" stroke-width="1.25"/>
<line x1="378.60" y1="562.50" x2="378.60" y2="565.10" stroke="#1a1a1a" stroke-width="1.25"/>
<text x="189.60" y="577.90" font-size="8.5" text-anchor="middle" font-weight="bold" fill="#1a1a1a">0</text>
<text x="265.20" y="577.90" font-size="8.5" text-anchor="middle" font-weight="bold" fill="#1a1a1a">20</text>
<text x="340.80" y="577.90" font-size="8.5" text-anchor="middle" font-weight="bold" fill="#1a1a1a">40</text>
<text x="283.00" y="588.40" font-size="9.5" text-anchor="middle" font-weight="bold" fill="#1a1a1a">Days</text>
<text x="160.40" y="505.00" font-size="9.5" text-anchor="middle" font-weight="bold" fill="#1a1a1a" transform="rotate(-90 160.4 505.0)">Weight (g)</text>
<line x1="193.38" y1="480.00" x2="193.38" y2="520.00" stroke="#8f84bb" stroke-width="1.0"/>
<line x1="191.18" y1="480.00" x2="195.58" y2="480.00" stroke="#8f84bb" stroke-width="1.0"/>
<line x1="191.18" y1="520.00" x2="195.58" y2="520.00" stroke="#8f84bb" stroke-width="1.0"/>
<line x1="197.16" y1="482.50" x2="197.16" y2="527.50" stroke="#8f84bb" stroke-width="1.0"/>
<line x1="194.96" y1="482.50" x2="199.36" y2="482.50" stroke="#8f84bb" stroke-width="1.0"/>
<line x1="194.96" y1="527.50" x2="199.36" y2="527.50" stroke="#8f84bb" stroke-width="1.0"/>
<line x1="200.94" y1="490.00" x2="200.94" y2="530.00" stroke="#8f84bb" stroke-width="1.0"/>
<line x1="198.74" y1="490.00" x2="203.14" y2="490.00" stroke="#8f84bb" stroke-width="1.0"/>
<line x1="198.74" y1="530.00" x2="203.14" y2="530.00" stroke="#8f84bb" stroke-width="1.0"/>
<line x1="204.72" y1="492.50" x2="204.72" y2="537.50" stroke="#8f84bb" stroke-width="1.0"/>
<line x1="202.52" y1="492.50" x2="206.92" y2="492.50" stroke="#8f84bb" stroke-width="1.0"/>
<line x1="202.52" y1="537.50" x2="206.92" y2="537.50" stroke="#8f84bb" stroke-width="1.0"/>
<line x1="208.50" y1="500.00" x2="208.50" y2="540.00" stroke="#8f84bb" stroke-width="1.0"/>
<line x1="206.30" y1="500.00" x2="210.70" y2="500.00" stroke="#8f84bb" stroke-width="1.0"/>
<line x1="206.30" y1="540.00" x2="210.70" y2="540.00" stroke="#8f84bb" stroke-width="1.0"/>
<line x1="216.06" y1="506.25" x2="216.06" y2="551.25" stroke="#8f84bb" stroke-width="1.0"/>
<line x1="213.86" y1="506.25" x2="218.26" y2="506.25" stroke="#8f84bb" stroke-width="1.0"/>
<line x1="213.86" y1="551.25" x2="218.26" y2="551.25" stroke="#8f84bb" stroke-width="1.0"/>
<line x1="231.18" y1="483.75" x2="231.18" y2="533.75" stroke="#8f84bb" stroke-width="1.0"/>
<line x1="228.98" y1="483.75" x2="233.38" y2="483.75" stroke="#8f84bb" stroke-width="1.0"/>
<line x1="228.98" y1="533.75" x2="233.38" y2="533.75" stroke="#8f84bb" stroke-width="1.0"/>
<line x1="242.52" y1="486.25" x2="242.52" y2="541.25" stroke="#8f84bb" stroke-width="1.0"/>
<line x1="240.32" y1="486.25" x2="244.72" y2="486.25" stroke="#8f84bb" stroke-width="1.0"/>
<line x1="240.32" y1="541.25" x2="244.72" y2="541.25" stroke="#8f84bb" stroke-width="1.0"/>
<line x1="257.64" y1="500.00" x2="257.64" y2="550.00" stroke="#8f84bb" stroke-width="1.0"/>
<line x1="255.44" y1="500.00" x2="259.84" y2="500.00" stroke="#8f84bb" stroke-width="1.0"/>
<line x1="255.44" y1="550.00" x2="259.84" y2="550.00" stroke="#8f84bb" stroke-width="1.0"/>
<line x1="268.98" y1="498.75" x2="268.98" y2="548.75" stroke="#8f84bb" stroke-width="1.0"/>
<line x1="266.78" y1="498.75" x2="271.18" y2="498.75" stroke="#8f84bb" stroke-width="1.0"/>
<line x1="266.78" y1="548.75" x2="271.18" y2="548.75" stroke="#8f84bb" stroke-width="1.0"/>
<line x1="284.10" y1="460.00" x2="284.10" y2="505.00" stroke="#8f84bb" stroke-width="1.0"/>
<line x1="281.90" y1="460.00" x2="286.30" y2="460.00" stroke="#8f84bb" stroke-width="1.0"/>
<line x1="281.90" y1="505.00" x2="286.30" y2="505.00" stroke="#8f84bb" stroke-width="1.0"/>
<line x1="295.44" y1="470.00" x2="295.44" y2="515.00" stroke="#8f84bb" stroke-width="1.0"/>
<line x1="293.24" y1="470.00" x2="297.64" y2="470.00" stroke="#8f84bb" stroke-width="1.0"/>
<line x1="293.24" y1="515.00" x2="297.64" y2="515.00" stroke="#8f84bb" stroke-width="1.0"/>
<line x1="310.56" y1="478.75" x2="310.56" y2="518.75" stroke="#8f84bb" stroke-width="1.0"/>
<line x1="308.36" y1="478.75" x2="312.76" y2="478.75" stroke="#8f84bb" stroke-width="1.0"/>
<line x1="308.36" y1="518.75" x2="312.76" y2="518.75" stroke="#8f84bb" stroke-width="1.0"/>
<line x1="321.90" y1="475.00" x2="321.90" y2="520.00" stroke="#8f84bb" stroke-width="1.0"/>
<line x1="319.70" y1="475.00" x2="324.10" y2="475.00" stroke="#8f84bb" stroke-width="1.0"/>
<line x1="319.70" y1="520.00" x2="324.10" y2="520.00" stroke="#8f84bb" stroke-width="1.0"/>
<line x1="337.02" y1="480.75" x2="337.02" y2="530.75" stroke="#8f84bb" stroke-width="1.0"/>
<line x1="334.82" y1="480.75" x2="339.22" y2="480.75" stroke="#8f84bb" stroke-width="1.0"/>
<line x1="334.82" y1="530.75" x2="339.22" y2="530.75" stroke="#8f84bb" stroke-width="1.0"/>
<line x1="348.36" y1="497.50" x2="348.36" y2="547.50" stroke="#8f84bb" stroke-width="1.0"/>
<line x1="346.16" y1="497.50" x2="350.56" y2="497.50" stroke="#8f84bb" stroke-width="1.0"/>
<line x1="346.16" y1="547.50" x2="350.56" y2="547.50" stroke="#8f84bb" stroke-width="1.0"/>
<line x1="363.48" y1="470.50" x2="363.48" y2="527.00" stroke="#8f84bb" stroke-width="1.0"/>
<line x1="361.28" y1="470.50" x2="365.68" y2="470.50" stroke="#8f84bb" stroke-width="1.0"/>
<line x1="361.28" y1="527.00" x2="365.68" y2="527.00" stroke="#8f84bb" stroke-width="1.0"/>
<line x1="374.82" y1="486.25" x2="374.82" y2="541.25" stroke="#8f84bb" stroke-width="1.0"/>
<line x1="372.62" y1="486.25" x2="377.02" y2="486.25" stroke="#8f84bb" stroke-width="1.0"/>
<line x1="372.62" y1="541.25" x2="377.02" y2="541.25" stroke="#8f84bb" stroke-width="1.0"/>
<line x1="193.38" y1="500.00" x2="193.38" y2="525.00" stroke="#7d8bc4" stroke-width="1.0"/>
<line x1="191.18" y1="500.00" x2="195.58" y2="500.00" stroke="#7d8bc4" stroke-width="1.0"/>
<line x1="191.18" y1="525.00" x2="195.58" y2="525.00" stroke="#7d8bc4" stroke-width="1.0"/>
<line x1="197.16" y1="507.50" x2="197.16" y2="532.50" stroke="#7d8bc4" stroke-width="1.0"/>
<line x1="194.96" y1="507.50" x2="199.36" y2="507.50" stroke="#7d8bc4" stroke-width="1.0"/>
<line x1="194.96" y1="532.50" x2="199.36" y2="532.50" stroke="#7d8bc4" stroke-width="1.0"/>
<line x1="200.94" y1="512.50" x2="200.94" y2="542.50" stroke="#7d8bc4" stroke-width="1.0"/>
<line x1="198.74" y1="512.50" x2="203.14" y2="512.50" stroke="#7d8bc4" stroke-width="1.0"/>
<line x1="198.74" y1="542.50" x2="203.14" y2="542.50" stroke="#7d8bc4" stroke-width="1.0"/>
<line x1="204.72" y1="510.00" x2="204.72" y2="535.00" stroke="#7d8bc4" stroke-width="1.0"/>
<line x1="202.52" y1="510.00" x2="206.92" y2="510.00" stroke="#7d8bc4" stroke-width="1.0"/>
<line x1="202.52" y1="535.00" x2="206.92" y2="535.00" stroke="#7d8bc4" stroke-width="1.0"/>
<line x1="208.50" y1="508.75" x2="208.50" y2="538.75" stroke="#7d8bc4" stroke-width="1.0"/>
<line x1="206.30" y1="508.75" x2="210.70" y2="508.75" stroke="#7d8bc4" stroke-width="1.0"/>
<line x1="206.30" y1="538.75" x2="210.70" y2="538.75" stroke="#7d8bc4" stroke-width="1.0"/>
<line x1="216.06" y1="520.00" x2="216.06" y2="550.00" stroke="#7d8bc4" stroke-width="1.0"/>
<line x1="213.86" y1="520.00" x2="218.26" y2="520.00" stroke="#7d8bc4" stroke-width="1.0"/>
<line x1="213.86" y1="550.00" x2="218.26" y2="550.00" stroke="#7d8bc4" stroke-width="1.0"/>
<line x1="231.18" y1="513.75" x2="231.18" y2="543.75" stroke="#7d8bc4" stroke-width="1.0"/>
<line x1="228.98" y1="513.75" x2="233.38" y2="513.75" stroke="#7d8bc4" stroke-width="1.0"/>
<line x1="228.98" y1="543.75" x2="233.38" y2="543.75" stroke="#7d8bc4" stroke-width="1.0"/>
<line x1="242.52" y1="528.75" x2="242.52" y2="548.75" stroke="#7d8bc4" stroke-width="1.0"/>
<line x1="240.32" y1="528.75" x2="244.72" y2="528.75" stroke="#7d8bc4" stroke-width="1.0"/>
<line x1="240.32" y1="548.75" x2="244.72" y2="548.75" stroke="#7d8bc4" stroke-width="1.0"/>
<line x1="257.64" y1="530.00" x2="257.64" y2="555.00" stroke="#7d8bc4" stroke-width="1.0"/>
<line x1="255.44" y1="530.00" x2="259.84" y2="530.00" stroke="#7d8bc4" stroke-width="1.0"/>
<line x1="255.44" y1="555.00" x2="259.84" y2="555.00" stroke="#7d8bc4" stroke-width="1.0"/>
<line x1="268.98" y1="520.00" x2="268.98" y2="545.00" stroke="#7d8bc4" stroke-width="1.0"/>
<line x1="266.78" y1="520.00" x2="271.18" y2="520.00" stroke="#7d8bc4" stroke-width="1.0"/>
<line x1="266.78" y1="545.00" x2="271.18" y2="545.00" stroke="#7d8bc4" stroke-width="1.0"/>
<line x1="284.10" y1="498.75" x2="284.10" y2="528.75" stroke="#7d8bc4" stroke-width="1.0"/>
<line x1="281.90" y1="498.75" x2="286.30" y2="498.75" stroke="#7d8bc4" stroke-width="1.0"/>
<line x1="281.90" y1="528.75" x2="286.30" y2="528.75" stroke="#7d8bc4" stroke-width="1.0"/>
<line x1="295.44" y1="506.25" x2="295.44" y2="536.25" stroke="#7d8bc4" stroke-width="1.0"/>
<line x1="293.24" y1="506.25" x2="297.64" y2="506.25" stroke="#7d8bc4" stroke-width="1.0"/>
<line x1="293.24" y1="536.25" x2="297.64" y2="536.25" stroke="#7d8bc4" stroke-width="1.0"/>
<line x1="310.56" y1="485.00" x2="310.56" y2="515.00" stroke="#7d8bc4" stroke-width="1.0"/>
<line x1="308.36" y1="485.00" x2="312.76" y2="485.00" stroke="#7d8bc4" stroke-width="1.0"/>
<line x1="308.36" y1="515.00" x2="312.76" y2="515.00" stroke="#7d8bc4" stroke-width="1.0"/>
<line x1="321.90" y1="481.25" x2="321.90" y2="506.25" stroke="#7d8bc4" stroke-width="1.0"/>
<line x1="319.70" y1="481.25" x2="324.10" y2="481.25" stroke="#7d8bc4" stroke-width="1.0"/>
<line x1="319.70" y1="506.25" x2="324.10" y2="506.25" stroke="#7d8bc4" stroke-width="1.0"/>
<line x1="337.02" y1="467.50" x2="337.02" y2="492.50" stroke="#7d8bc4" stroke-width="1.0"/>
<line x1="334.82" y1="467.50" x2="339.22" y2="467.50" stroke="#7d8bc4" stroke-width="1.0"/>
<line x1="334.82" y1="492.50" x2="339.22" y2="492.50" stroke="#7d8bc4" stroke-width="1.0"/>
<line x1="193.38" y1="490.00" x2="193.38" y2="520.00" stroke="#aaaaaa" stroke-width="1.0"/>
<line x1="191.18" y1="490.00" x2="195.58" y2="490.00" stroke="#aaaaaa" stroke-width="1.0"/>
<line x1="191.18" y1="520.00" x2="195.58" y2="520.00" stroke="#aaaaaa" stroke-width="1.0"/>
<line x1="197.16" y1="472.50" x2="197.16" y2="497.50" stroke="#aaaaaa" stroke-width="1.0"/>
<line x1="194.96" y1="472.50" x2="199.36" y2="472.50" stroke="#aaaaaa" stroke-width="1.0"/>
<line x1="194.96" y1="497.50" x2="199.36" y2="497.50" stroke="#aaaaaa" stroke-width="1.0"/>
<line x1="200.94" y1="460.00" x2="200.94" y2="490.00" stroke="#aaaaaa" stroke-width="1.0"/>
<line x1="198.74" y1="460.00" x2="203.14" y2="460.00" stroke="#aaaaaa" stroke-width="1.0"/>
<line x1="198.74" y1="490.00" x2="203.14" y2="490.00" stroke="#aaaaaa" stroke-width="1.0"/>
<line x1="204.72" y1="477.50" x2="204.72" y2="502.50" stroke="#aaaaaa" stroke-width="1.0"/>
<line x1="202.52" y1="477.50" x2="206.92" y2="477.50" stroke="#aaaaaa" stroke-width="1.0"/>
<line x1="202.52" y1="502.50" x2="206.92" y2="502.50" stroke="#aaaaaa" stroke-width="1.0"/>
<line x1="208.50" y1="476.25" x2="208.50" y2="511.25" stroke="#aaaaaa" stroke-width="1.0"/>
<line x1="206.30" y1="476.25" x2="210.70" y2="476.25" stroke="#aaaaaa" stroke-width="1.0"/>
<line x1="206.30" y1="511.25" x2="210.70" y2="511.25" stroke="#aaaaaa" stroke-width="1.0"/>
<line x1="216.06" y1="483.75" x2="216.06" y2="513.75" stroke="#aaaaaa" stroke-width="1.0"/>
<line x1="213.86" y1="483.75" x2="218.26" y2="483.75" stroke="#aaaaaa" stroke-width="1.0"/>
<line x1="213.86" y1="513.75" x2="218.26" y2="513.75" stroke="#aaaaaa" stroke-width="1.0"/>
<line x1="231.18" y1="450.00" x2="231.18" y2="480.00" stroke="#aaaaaa" stroke-width="1.0"/>
<line x1="228.98" y1="450.00" x2="233.38" y2="450.00" stroke="#aaaaaa" stroke-width="1.0"/>
<line x1="228.98" y1="480.00" x2="233.38" y2="480.00" stroke="#aaaaaa" stroke-width="1.0"/>
<line x1="242.52" y1="460.00" x2="242.52" y2="485.00" stroke="#aaaaaa" stroke-width="1.0"/>
<line x1="240.32" y1="460.00" x2="244.72" y2="460.00" stroke="#aaaaaa" stroke-width="1.0"/>
<line x1="240.32" y1="485.00" x2="244.72" y2="485.00" stroke="#aaaaaa" stroke-width="1.0"/>
<line x1="257.64" y1="470.00" x2="257.64" y2="490.00" stroke="#aaaaaa" stroke-width="1.0"/>
<line x1="255.44" y1="470.00" x2="259.84" y2="470.00" stroke="#aaaaaa" stroke-width="1.0"/>
<line x1="255.44" y1="490.00" x2="259.84" y2="490.00" stroke="#aaaaaa" stroke-width="1.0"/>
<line x1="268.98" y1="472.50" x2="268.98" y2="497.50" stroke="#aaaaaa" stroke-width="1.0"/>
<line x1="266.78" y1="472.50" x2="271.18" y2="472.50" stroke="#aaaaaa" stroke-width="1.0"/>
<line x1="266.78" y1="497.50" x2="271.18" y2="497.50" stroke="#aaaaaa" stroke-width="1.0"/>
<line x1="193.38" y1="486.00" x2="193.38" y2="511.00" stroke="#555" stroke-width="1.0"/>
<line x1="191.18" y1="486.00" x2="195.58" y2="486.00" stroke="#555" stroke-width="1.0"/>
<line x1="191.18" y1="511.00" x2="195.58" y2="511.00" stroke="#555" stroke-width="1.0"/>
<line x1="197.16" y1="460.00" x2="197.16" y2="490.00" stroke="#555" stroke-width="1.0"/>
<line x1="194.96" y1="460.00" x2="199.36" y2="460.00" stroke="#555" stroke-width="1.0"/>
<line x1="194.96" y1="490.00" x2="199.36" y2="490.00" stroke="#555" stroke-width="1.0"/>
<line x1="200.94" y1="452.50" x2="200.94" y2="477.50" stroke="#555" stroke-width="1.0"/>
<line x1="198.74" y1="452.50" x2="203.14" y2="452.50" stroke="#555" stroke-width="1.0"/>
<line x1="198.74" y1="477.50" x2="203.14" y2="477.50" stroke="#555" stroke-width="1.0"/>
<line x1="204.72" y1="465.00" x2="204.72" y2="490.00" stroke="#555" stroke-width="1.0"/>
<line x1="202.52" y1="465.00" x2="206.92" y2="465.00" stroke="#555" stroke-width="1.0"/>
<line x1="202.52" y1="490.00" x2="206.92" y2="490.00" stroke="#555" stroke-width="1.0"/>
<line x1="208.50" y1="462.50" x2="208.50" y2="492.50" stroke="#555" stroke-width="1.0"/>
<line x1="206.30" y1="462.50" x2="210.70" y2="462.50" stroke="#555" stroke-width="1.0"/>
<line x1="206.30" y1="492.50" x2="210.70" y2="492.50" stroke="#555" stroke-width="1.0"/>
<line x1="216.06" y1="465.00" x2="216.06" y2="495.00" stroke="#555" stroke-width="1.0"/>
<line x1="213.86" y1="465.00" x2="218.26" y2="465.00" stroke="#555" stroke-width="1.0"/>
<line x1="213.86" y1="495.00" x2="218.26" y2="495.00" stroke="#555" stroke-width="1.0"/>
<line x1="231.18" y1="450.00" x2="231.18" y2="475.00" stroke="#555" stroke-width="1.0"/>
<line x1="228.98" y1="450.00" x2="233.38" y2="450.00" stroke="#555" stroke-width="1.0"/>
<line x1="228.98" y1="475.00" x2="233.38" y2="475.00" stroke="#555" stroke-width="1.0"/>
<line x1="242.52" y1="455.00" x2="242.52" y2="485.00" stroke="#555" stroke-width="1.0"/>
<line x1="240.32" y1="455.00" x2="244.72" y2="455.00" stroke="#555" stroke-width="1.0"/>
<line x1="240.32" y1="485.00" x2="244.72" y2="485.00" stroke="#555" stroke-width="1.0"/>
<line x1="257.64" y1="481.25" x2="257.64" y2="506.25" stroke="#555" stroke-width="1.0"/>
<line x1="255.44" y1="481.25" x2="259.84" y2="481.25" stroke="#555" stroke-width="1.0"/>
<line x1="255.44" y1="506.25" x2="259.84" y2="506.25" stroke="#555" stroke-width="1.0"/>
<line x1="268.98" y1="485.00" x2="268.98" y2="505.00" stroke="#555" stroke-width="1.0"/>
<line x1="266.78" y1="485.00" x2="271.18" y2="485.00" stroke="#555" stroke-width="1.0"/>
<line x1="266.78" y1="505.00" x2="271.18" y2="505.00" stroke="#555" stroke-width="1.0"/>
<polyline points="193.38,500.00 197.16,505.00 200.94,510.00 204.72,515.00 208.50,520.00 216.06,528.75 231.18,508.75 242.52,513.75 257.64,525.00 268.98,523.75 284.10,482.50 295.44,492.50 310.56,498.75 321.90,497.50 337.02,505.75 348.36,522.50 363.48,498.75 374.82,513.75" fill="none" stroke="#6a50a0" stroke-width="1.3" stroke-linejoin="miter"/>
<path d="M190.52 498.05L196.24 498.05L193.38 502.73Z" fill="#6a50a0"/>
<path d="M194.30 503.05L200.02 503.05L197.16 507.73Z" fill="#6a50a0"/>
<path d="M198.08 508.05L203.80 508.05L200.94 512.73Z" fill="#6a50a0"/>
<path d="M201.86 513.05L207.58 513.05L204.72 517.73Z" fill="#6a50a0"/>
<path d="M205.64 518.05L211.36 518.05L208.50 522.73Z" fill="#6a50a0"/>
<path d="M213.20 526.80L218.92 526.80L216.06 531.48Z" fill="#6a50a0"/>
<path d="M228.32 506.80L234.04 506.80L231.18 511.48Z" fill="#6a50a0"/>
<path d="M239.66 511.80L245.38 511.80L242.52 516.48Z" fill="#6a50a0"/>
<path d="M254.78 523.05L260.50 523.05L257.64 527.73Z" fill="#6a50a0"/>
<path d="M266.12 521.80L271.84 521.80L268.98 526.48Z" fill="#6a50a0"/>
<path d="M281.24 480.55L286.96 480.55L284.10 485.23Z" fill="#6a50a0"/>
<path d="M292.58 490.55L298.30 490.55L295.44 495.23Z" fill="#6a50a0"/>
<path d="M307.70 496.80L313.42 496.80L310.56 501.48Z" fill="#6a50a0"/>
<path d="M319.04 495.55L324.76 495.55L321.90 500.23Z" fill="#6a50a0"/>
<path d="M334.16 503.80L339.88 503.80L337.02 508.48Z" fill="#6a50a0"/>
<path d="M345.50 520.55L351.22 520.55L348.36 525.23Z" fill="#6a50a0"/>
<path d="M360.62 496.80L366.34 496.80L363.48 501.48Z" fill="#6a50a0"/>
<path d="M371.96 511.80L377.68 511.80L374.82 516.48Z" fill="#6a50a0"/>
<polyline points="193.38,512.50 197.16,520.00 200.94,527.50 204.72,522.50 208.50,523.75 216.06,535.00 231.18,528.75 242.52,538.75 257.64,542.50 268.98,532.50 284.10,513.75 295.44,521.25 310.56,500.00 321.90,493.75 337.02,480.00" fill="none" stroke="#3a52a8" stroke-width="1.3" stroke-linejoin="miter"/>
<rect x="190.88" y="510.00" width="5.0" height="5.0" fill="#3a52a8"/>
<rect x="194.66" y="517.50" width="5.0" height="5.0" fill="#3a52a8"/>
<rect x="198.44" y="525.00" width="5.0" height="5.0" fill="#3a52a8"/>
<rect x="202.22" y="520.00" width="5.0" height="5.0" fill="#3a52a8"/>
<rect x="206.00" y="521.25" width="5.0" height="5.0" fill="#3a52a8"/>
<rect x="213.56" y="532.50" width="5.0" height="5.0" fill="#3a52a8"/>
<rect x="228.68" y="526.25" width="5.0" height="5.0" fill="#3a52a8"/>
<rect x="240.02" y="536.25" width="5.0" height="5.0" fill="#3a52a8"/>
<rect x="255.14" y="540.00" width="5.0" height="5.0" fill="#3a52a8"/>
<rect x="266.48" y="530.00" width="5.0" height="5.0" fill="#3a52a8"/>
<rect x="281.60" y="511.25" width="5.0" height="5.0" fill="#3a52a8"/>
<rect x="292.94" y="518.75" width="5.0" height="5.0" fill="#3a52a8"/>
<rect x="308.06" y="497.50" width="5.0" height="5.0" fill="#3a52a8"/>
<rect x="319.40" y="491.25" width="5.0" height="5.0" fill="#3a52a8"/>
<rect x="334.52" y="477.50" width="5.0" height="5.0" fill="#3a52a8"/>
<polyline points="193.38,505.00 197.16,485.00 200.94,475.00 204.72,490.00 208.50,493.75 216.06,498.75 231.18,465.00 242.52,472.50 257.64,480.00 268.98,485.00" fill="none" stroke="#9f9f9f" stroke-width="1.3" stroke-linejoin="miter"/>
<path d="M193.38 502.40L195.98 505.00L193.38 507.60L190.78 505.00Z" fill="#9f9f9f"/>
<path d="M197.16 482.40L199.76 485.00L197.16 487.60L194.56 485.00Z" fill="#9f9f9f"/>
<path d="M200.94 472.40L203.54 475.00L200.94 477.60L198.34 475.00Z" fill="#9f9f9f"/>
<path d="M204.72 487.40L207.32 490.00L204.72 492.60L202.12 490.00Z" fill="#9f9f9f"/>
<path d="M208.50 491.15L211.10 493.75L208.50 496.35L205.90 493.75Z" fill="#9f9f9f"/>
<path d="M216.06 496.15L218.66 498.75L216.06 501.35L213.46 498.75Z" fill="#9f9f9f"/>
<path d="M231.18 462.40L233.78 465.00L231.18 467.60L228.58 465.00Z" fill="#9f9f9f"/>
<path d="M242.52 469.90L245.12 472.50L242.52 475.10L239.92 472.50Z" fill="#9f9f9f"/>
<path d="M257.64 477.40L260.24 480.00L257.64 482.60L255.04 480.00Z" fill="#9f9f9f"/>
<path d="M268.98 482.40L271.58 485.00L268.98 487.60L266.38 485.00Z" fill="#9f9f9f"/>
<polyline points="193.38,498.50 197.16,475.00 200.94,465.00 204.72,477.50 208.50,477.50 216.06,480.00 231.18,462.50 242.52,470.00 257.64,493.75 268.98,495.00" fill="none" stroke="#1a1a1a" stroke-width="1.3" stroke-linejoin="miter"/>
<circle cx="193.38" cy="498.50" r="2.7" fill="#1a1a1a"/>
<circle cx="197.16" cy="475.00" r="2.7" fill="#1a1a1a"/>
<circle cx="200.94" cy="465.00" r="2.7" fill="#1a1a1a"/>
<circle cx="204.72" cy="477.50" r="2.7" fill="#1a1a1a"/>
<circle cx="208.50" cy="477.50" r="2.7" fill="#1a1a1a"/>
<circle cx="216.06" cy="480.00" r="2.7" fill="#1a1a1a"/>
<circle cx="231.18" cy="462.50" r="2.7" fill="#1a1a1a"/>
<circle cx="242.52" cy="470.00" r="2.7" fill="#1a1a1a"/>
<circle cx="257.64" cy="493.75" r="2.7" fill="#1a1a1a"/>
<circle cx="268.98" cy="495.00" r="2.7" fill="#1a1a1a"/>
<line x1="202.50" y1="420.00" x2="216.30" y2="420.00" stroke="#1a1a1a" stroke-width="1.3"/>
<circle cx="209.40" cy="420.00" r="2.6" fill="#1a1a1a"/>
<text x="223.80" y="423.20" font-size="9" text-anchor="start" font-weight="bold" fill="#1a1a1a">Vehicle</text>
<line x1="202.50" y1="438.00" x2="216.30" y2="438.00" stroke="#9f9f9f" stroke-width="1.3"/>
<path d="M209.40 435.60L211.80 438.00L209.40 440.40L207.00 438.00Z" fill="#9f9f9f"/>
<text x="223.80" y="441.20" font-size="9" text-anchor="start" font-weight="bold" fill="#1a1a1a">ART899</text>
<line x1="284.50" y1="419.40" x2="298.00" y2="419.40" stroke="#3a52a8" stroke-width="1.3"/>
<rect x="288.90" y="417.10" width="4.6" height="4.6" fill="#3a52a8"/>
<text x="306.50" y="422.60" font-size="9" text-anchor="start" font-weight="bold" fill="#1a1a1a">10 × 2 Gy</text>
<line x1="284.50" y1="437.70" x2="298.00" y2="437.70" stroke="#6a50a0" stroke-width="1.3"/>
<path d="M288.67 435.97L293.73 435.97L291.20 440.12Z" fill="#6a50a0"/>
<text x="306.50" y="440.90" font-size="9" text-anchor="start" font-weight="bold" fill="#1a1a1a">10 × 2 Gy + ART899</text>
</svg></body></html>
